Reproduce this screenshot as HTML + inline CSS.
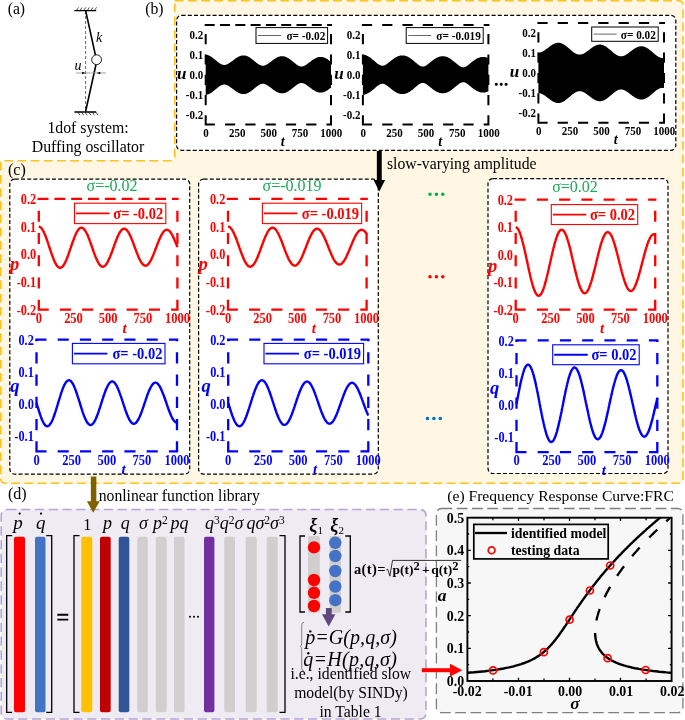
<!DOCTYPE html>
<html><head><meta charset="utf-8"><title>figure</title>
<style>html,body{margin:0;padding:0;background:#fff}svg{display:block}text{font-family:'Liberation Serif', 'DejaVu Serif', serif}</style>
</head><body>
<svg width="685" height="720" viewBox="0 0 685 720">
<rect x="0" y="0" width="685" height="720" fill="#fff"/>
<path d="M174.8 0.8 H678.500 Q683 0.8 683 5.300 V478.800 Q683 483.300 678.500 483.300 H5.300 Q0.800 483.300 0.800 478.800 V160.800 H169.600 Q174.800 160.800 174.800 155.600 Z" fill="#FFF7E3" stroke="#FFC21A" stroke-width="1.600" stroke-dasharray="8.800 4.400"/>
<text x="7.7" y="14" font-size="15.7">(a)</text>
<text x="145.3" y="14" font-size="15.7">(b)</text>
<g stroke="#000" fill="none">
<path d="M74.4 10.6 H96.2 M74.4 112 H96.2" stroke-width="1.3"/>
<path d="M76.5 10.4 l2 -3 M78 112.2 l2 3 M80.1 10.4 l2 -3 M81.6 112.2 l2 3 M83.7 10.4 l2 -3 M85.2 112.2 l2 3 M87.3 10.4 l2 -3 M88.8 112.2 l2 3 M90.9 10.4 l2 -3 M92.4 112.2 l2 3 M94.5 10.4 l2 -3 M96 112.2 l2 3 " stroke-width="0.7"/>
<path d="M85.6 11 V111" stroke-width="0.6" stroke-dasharray="3 2"/>
<path d="M85.7 10.8 L95.4 55 M96 64.500 L85.6 111.5" stroke-width="1.6"/>
<circle cx="96.6" cy="59.7" r="4.9" fill="#fff" stroke-width="0.9"/>
<path d="M76 73 H106" stroke="#999" stroke-width="0.9"/>
</g>
<path d="M85.6 73 l-3.500 -1.2 v2.4 Z M96.8 73 l3.500 -1.2 v2.4 Z" fill="#000"/>
<text x="96" y="41.7" font-size="14" font-style="italic">k</text>
<text x="74.6" y="70.3" font-size="14" font-style="italic">u</text>
<text x="88" y="132.6" font-size="15.8" text-anchor="middle">1dof system:</text>
<text x="88" y="151.6" font-size="15.8" text-anchor="middle">Duffing oscillator</text>
<rect x="176.6" y="15.300" width="499.2" height="135" rx="5" fill="#fff" stroke="#000" stroke-width="1.200" stroke-dasharray="4 2.200"/>
<path d="M205.7 54.6 L206 54.6 L206.3 54.7 L206.6 54.7 L207 54.8 L207.3 54.9 L207.6 55 L207.9 55.1 L208.2 55.2 L208.5 55.3 L208.8 55.4 L209.1 55.6 L209.5 55.7 L209.8 55.9 L210.1 56.1 L210.4 56.2 L210.7 56.4 L211 56.6 L211.3 56.8 L211.7 57 L212 57.3 L212.3 57.5 L212.6 57.7 L212.9 57.9 L213.2 58.2 L213.5 58.4 L213.8 58.7 L214.2 58.9 L214.5 59.2 L214.8 59.4 L215.1 59.7 L215.4 60 L215.7 60.2 L216 60.5 L216.4 60.7 L216.7 61 L217 61.3 L217.3 61.5 L217.6 61.8 L217.9 62 L218.2 62.3 L218.5 62.5 L218.9 62.7 L219.2 62.9 L219.5 63.2 L219.8 63.4 L220.1 63.6 L220.4 63.7 L220.7 63.9 L221 64.1 L221.4 64.2 L221.7 64.4 L222 64.5 L222.3 64.6 L222.6 64.7 L222.9 64.8 L223.2 64.8 L223.6 64.9 L223.9 64.9 L224.2 64.9 L224.5 64.9 L224.8 64.9 L225.1 64.9 L225.4 64.8 L225.7 64.7 L226.1 64.7 L226.4 64.6 L226.7 64.4 L227 64.3 L227.3 64.2 L227.6 64 L227.9 63.9 L228.3 63.7 L228.6 63.5 L228.9 63.3 L229.2 63.1 L229.5 62.9 L229.8 62.7 L230.1 62.5 L230.4 62.3 L230.8 62.1 L231.1 61.8 L231.4 61.6 L231.7 61.4 L232 61.1 L232.3 60.9 L232.6 60.7 L233 60.4 L233.3 60.2 L233.6 59.9 L233.9 59.7 L234.2 59.5 L234.5 59.2 L234.8 59 L235.1 58.8 L235.5 58.6 L235.8 58.3 L236.1 58.1 L236.4 57.9 L236.7 57.7 L237 57.5 L237.3 57.3 L237.7 57.2 L238 57 L238.3 56.8 L238.6 56.7 L238.9 56.5 L239.2 56.4 L239.5 56.2 L239.8 56.1 L240.2 56 L240.5 55.9 L240.8 55.8 L241.1 55.7 L241.4 55.6 L241.7 55.6 L242 55.5 L242.4 55.5 L242.7 55.4 L243 55.4 L243.3 55.4 L243.6 55.4 L243.9 55.4 L244.2 55.4 L244.5 55.4 L244.9 55.5 L245.2 55.5 L245.5 55.6 L245.8 55.7 L246.1 55.8 L246.4 55.9 L246.7 56 L247 56.1 L247.4 56.2 L247.7 56.4 L248 56.5 L248.3 56.7 L248.6 56.8 L248.9 57 L249.2 57.2 L249.6 57.4 L249.9 57.6 L250.2 57.8 L250.5 58 L250.8 58.2 L251.1 58.4 L251.4 58.7 L251.7 58.9 L252.1 59.1 L252.4 59.4 L252.7 59.6 L253 59.9 L253.3 60.1 L253.6 60.4 L253.9 60.6 L254.3 60.9 L254.6 61.2 L254.9 61.4 L255.2 61.7 L255.5 61.9 L255.8 62.2 L256.1 62.5 L256.4 62.7 L256.8 62.9 L257.1 63.2 L257.4 63.4 L257.7 63.6 L258 63.9 L258.3 64.1 L258.6 64.3 L259 64.5 L259.3 64.7 L259.6 64.8 L259.9 65 L260.2 65.1 L260.5 65.3 L260.8 65.4 L261.1 65.5 L261.5 65.5 L261.8 65.6 L262.1 65.7 L262.4 65.7 L262.7 65.7 L263 65.7 L263.3 65.7 L263.7 65.7 L264 65.6 L264.3 65.5 L264.6 65.5 L264.9 65.4 L265.2 65.2 L265.5 65.1 L265.8 65 L266.2 64.8 L266.5 64.7 L266.8 64.5 L267.1 64.3 L267.4 64.1 L267.7 63.9 L268 63.7 L268.4 63.5 L268.7 63.3 L269 63.1 L269.3 62.8 L269.6 62.6 L269.9 62.4 L270.2 62.1 L270.5 61.9 L270.9 61.7 L271.2 61.4 L271.5 61.2 L271.8 60.9 L272.1 60.7 L272.4 60.5 L272.7 60.2 L273 60 L273.4 59.8 L273.7 59.6 L274 59.3 L274.3 59.1 L274.6 58.9 L274.9 58.7 L275.2 58.5 L275.6 58.3 L275.9 58.1 L276.2 57.9 L276.5 57.8 L276.8 57.6 L277.1 57.4 L277.4 57.3 L277.7 57.1 L278.1 57 L278.4 56.9 L278.7 56.8 L279 56.7 L279.3 56.6 L279.6 56.5 L279.9 56.4 L280.3 56.3 L280.6 56.3 L280.9 56.2 L281.2 56.2 L281.5 56.2 L281.8 56.2 L282.1 56.2 L282.4 56.2 L282.8 56.2 L283.1 56.2 L283.4 56.3 L283.7 56.3 L284 56.4 L284.3 56.4 L284.6 56.5 L285 56.6 L285.3 56.7 L285.6 56.8 L285.9 57 L286.2 57.1 L286.5 57.2 L286.8 57.4 L287.1 57.5 L287.5 57.7 L287.8 57.9 L288.1 58.1 L288.4 58.3 L288.7 58.5 L289 58.7 L289.3 58.9 L289.7 59.1 L290 59.3 L290.3 59.6 L290.6 59.8 L290.9 60 L291.2 60.3 L291.5 60.5 L291.8 60.8 L292.2 61 L292.5 61.3 L292.8 61.6 L293.1 61.8 L293.4 62.1 L293.7 62.3 L294 62.6 L294.3 62.8 L294.7 63.1 L295 63.3 L295.3 63.6 L295.6 63.8 L295.9 64.1 L296.2 64.3 L296.5 64.5 L296.9 64.7 L297.2 65 L297.5 65.2 L297.8 65.3 L298.1 65.5 L298.4 65.7 L298.7 65.8 L299 66 L299.4 66.1 L299.7 66.2 L300 66.3 L300.3 66.4 L300.6 66.4 L300.9 66.4 L301.2 66.5 L301.6 66.5 L301.9 66.5 L302.2 66.4 L302.5 66.4 L302.8 66.3 L303.1 66.2 L303.4 66.1 L303.7 66 L304.1 65.9 L304.4 65.7 L304.7 65.6 L305 65.4 L305.3 65.2 L305.6 65.1 L305.9 64.9 L306.3 64.7 L306.6 64.5 L306.9 64.2 L307.2 64 L307.5 63.8 L307.8 63.6 L308.1 63.3 L308.4 63.1 L308.8 62.9 L309.1 62.6 L309.4 62.4 L309.7 62.1 L310 61.9 L310.3 61.7 L310.6 61.4 L311 61.2 L311.3 61 L311.6 60.7 L311.9 60.5 L312.2 60.3 L312.5 60.1 L312.8 59.8 L313.1 59.6 L313.5 59.4 L313.8 59.2 L314.1 59 L314.4 58.9 L314.7 58.7 L315 58.5 L315.3 58.3 L315.7 58.2 L316 58 L316.3 57.9 L316.6 57.8 L316.9 57.6 L317.2 57.5 L317.5 57.4 L317.8 57.3 L318.2 57.2 L318.5 57.1 L318.8 57.1 L319.1 57 L319.4 57 L319.7 56.9 L320 56.9 L320.3 56.9 L320.7 56.9 L321 56.9 L321.3 56.9 L321.6 56.9 L321.9 57 L322.2 57 L322.5 57.1 L322.9 57.2 L323.2 57.2 L323.5 57.3 L323.8 57.4 L324.1 57.5 L324.4 57.6 L324.7 57.8 L325 57.9 L325.4 58.1 L325.7 58.2 L326 58.4 L326.3 58.5 L326.6 58.7 L326.9 58.9 L327.2 59.1 L327.6 59.3 L327.9 59.5 L328.2 59.7 L328.5 60 L328.8 60.2 L329.1 60.4 L329.4 60.7 L329.7 60.9 L330.1 61.1 L330.4 61.4 L330.7 61.6 L331 61.9 L331 87.6 L330.7 87.9 L330.4 88.1 L330.1 88.4 L329.7 88.6 L329.4 88.8 L329.1 89.1 L328.8 89.3 L328.5 89.5 L328.2 89.8 L327.9 90 L327.6 90.2 L327.2 90.4 L326.9 90.6 L326.6 90.8 L326.3 91 L326 91.1 L325.7 91.3 L325.4 91.4 L325 91.6 L324.7 91.7 L324.4 91.9 L324.1 92 L323.8 92.1 L323.5 92.2 L323.2 92.3 L322.9 92.3 L322.5 92.4 L322.2 92.5 L321.9 92.5 L321.6 92.6 L321.3 92.6 L321 92.6 L320.7 92.6 L320.3 92.6 L320 92.6 L319.7 92.6 L319.4 92.5 L319.1 92.5 L318.8 92.4 L318.5 92.4 L318.2 92.3 L317.8 92.2 L317.5 92.1 L317.2 92 L316.9 91.9 L316.6 91.7 L316.3 91.6 L316 91.5 L315.7 91.3 L315.3 91.2 L315 91 L314.7 90.8 L314.4 90.6 L314.1 90.5 L313.8 90.3 L313.5 90.1 L313.1 89.9 L312.8 89.7 L312.5 89.4 L312.2 89.2 L311.9 89 L311.6 88.8 L311.3 88.5 L311 88.3 L310.6 88.1 L310.3 87.8 L310 87.6 L309.7 87.4 L309.4 87.1 L309.1 86.9 L308.8 86.6 L308.4 86.4 L308.1 86.2 L307.8 85.9 L307.5 85.7 L307.2 85.5 L306.9 85.3 L306.6 85 L306.3 84.8 L305.9 84.6 L305.6 84.4 L305.3 84.3 L305 84.1 L304.7 83.9 L304.4 83.8 L304.1 83.6 L303.7 83.5 L303.4 83.4 L303.1 83.3 L302.8 83.2 L302.5 83.1 L302.2 83.1 L301.9 83 L301.6 83 L301.2 83 L300.9 83.1 L300.6 83.1 L300.3 83.1 L300 83.2 L299.7 83.3 L299.4 83.4 L299 83.5 L298.7 83.7 L298.4 83.8 L298.1 84 L297.8 84.2 L297.5 84.3 L297.2 84.5 L296.9 84.8 L296.5 85 L296.2 85.2 L295.9 85.4 L295.6 85.7 L295.3 85.9 L295 86.2 L294.7 86.4 L294.3 86.7 L294 86.9 L293.7 87.2 L293.4 87.4 L293.1 87.7 L292.8 87.9 L292.5 88.2 L292.2 88.5 L291.8 88.7 L291.5 89 L291.2 89.2 L290.9 89.5 L290.6 89.7 L290.3 89.9 L290 90.2 L289.7 90.4 L289.3 90.6 L289 90.8 L288.7 91 L288.4 91.2 L288.1 91.4 L287.8 91.6 L287.5 91.8 L287.1 92 L286.8 92.1 L286.5 92.3 L286.2 92.4 L285.9 92.5 L285.6 92.7 L285.3 92.8 L285 92.9 L284.6 93 L284.3 93.1 L284 93.1 L283.7 93.2 L283.4 93.2 L283.1 93.3 L282.8 93.3 L282.4 93.3 L282.1 93.3 L281.8 93.3 L281.5 93.3 L281.2 93.3 L280.9 93.3 L280.6 93.2 L280.3 93.2 L279.9 93.1 L279.6 93 L279.3 92.9 L279 92.8 L278.7 92.7 L278.4 92.6 L278.1 92.5 L277.7 92.4 L277.4 92.2 L277.1 92.1 L276.8 91.9 L276.5 91.7 L276.2 91.6 L275.9 91.4 L275.6 91.2 L275.2 91 L274.9 90.8 L274.6 90.6 L274.3 90.4 L274 90.2 L273.7 89.9 L273.4 89.7 L273 89.5 L272.7 89.3 L272.4 89 L272.1 88.8 L271.8 88.6 L271.5 88.3 L271.2 88.1 L270.9 87.8 L270.5 87.6 L270.2 87.4 L269.9 87.1 L269.6 86.9 L269.3 86.7 L269 86.4 L268.7 86.2 L268.4 86 L268 85.8 L267.7 85.6 L267.4 85.4 L267.1 85.2 L266.8 85 L266.5 84.8 L266.2 84.7 L265.8 84.5 L265.5 84.4 L265.2 84.3 L264.9 84.1 L264.6 84 L264.3 84 L264 83.9 L263.7 83.8 L263.3 83.8 L263 83.8 L262.7 83.8 L262.4 83.8 L262.1 83.8 L261.8 83.9 L261.5 84 L261.1 84 L260.8 84.1 L260.5 84.2 L260.2 84.4 L259.9 84.5 L259.6 84.7 L259.3 84.8 L259 85 L258.6 85.2 L258.3 85.4 L258 85.6 L257.7 85.9 L257.4 86.1 L257.1 86.3 L256.8 86.6 L256.4 86.8 L256.1 87 L255.8 87.3 L255.5 87.6 L255.2 87.8 L254.9 88.1 L254.6 88.3 L254.3 88.6 L253.9 88.9 L253.6 89.1 L253.3 89.4 L253 89.6 L252.7 89.9 L252.4 90.1 L252.1 90.4 L251.7 90.6 L251.4 90.8 L251.1 91.1 L250.8 91.3 L250.5 91.5 L250.2 91.7 L249.9 91.9 L249.6 92.1 L249.2 92.3 L248.9 92.5 L248.6 92.7 L248.3 92.8 L248 93 L247.7 93.1 L247.4 93.3 L247 93.4 L246.7 93.5 L246.4 93.6 L246.1 93.7 L245.8 93.8 L245.5 93.9 L245.2 94 L244.9 94 L244.5 94.1 L244.2 94.1 L243.9 94.1 L243.6 94.1 L243.3 94.1 L243 94.1 L242.7 94.1 L242.4 94 L242 94 L241.7 93.9 L241.4 93.9 L241.1 93.8 L240.8 93.7 L240.5 93.6 L240.2 93.5 L239.8 93.4 L239.5 93.3 L239.2 93.1 L238.9 93 L238.6 92.8 L238.3 92.7 L238 92.5 L237.7 92.3 L237.3 92.2 L237 92 L236.7 91.8 L236.4 91.6 L236.1 91.4 L235.8 91.2 L235.5 90.9 L235.1 90.7 L234.8 90.5 L234.5 90.3 L234.2 90 L233.9 89.8 L233.6 89.6 L233.3 89.3 L233 89.1 L232.6 88.8 L232.3 88.6 L232 88.4 L231.7 88.1 L231.4 87.9 L231.1 87.7 L230.8 87.4 L230.4 87.2 L230.1 87 L229.8 86.8 L229.5 86.6 L229.2 86.4 L228.9 86.2 L228.6 86 L228.3 85.8 L227.9 85.6 L227.6 85.5 L227.3 85.3 L227 85.2 L226.7 85.1 L226.4 84.9 L226.1 84.8 L225.7 84.8 L225.4 84.7 L225.1 84.6 L224.8 84.6 L224.5 84.6 L224.2 84.6 L223.9 84.6 L223.6 84.6 L223.2 84.7 L222.9 84.7 L222.6 84.8 L222.3 84.9 L222 85 L221.7 85.1 L221.4 85.3 L221 85.4 L220.7 85.6 L220.4 85.8 L220.1 85.9 L219.8 86.1 L219.5 86.3 L219.2 86.6 L218.9 86.8 L218.5 87 L218.2 87.2 L217.9 87.5 L217.6 87.7 L217.3 88 L217 88.2 L216.7 88.5 L216.4 88.8 L216 89 L215.7 89.3 L215.4 89.5 L215.1 89.8 L214.8 90.1 L214.5 90.3 L214.2 90.6 L213.8 90.8 L213.5 91.1 L213.2 91.3 L212.9 91.6 L212.6 91.8 L212.3 92 L212 92.2 L211.7 92.5 L211.3 92.7 L211 92.9 L210.7 93.1 L210.4 93.3 L210.1 93.4 L209.8 93.6 L209.5 93.8 L209.1 93.9 L208.8 94.1 L208.5 94.2 L208.2 94.3 L207.9 94.4 L207.6 94.5 L207.3 94.6 L207 94.7 L206.6 94.8 L206.3 94.8 L206 94.9 L205.7 94.9 Z" fill="#000"/>
<g stroke="#000" stroke-width="2" fill="none"><path d="M204.7 25 H332" stroke-dasharray="10 5.3"/><path d="M204.7 124.5 H332 M205.7 125.5 V25 M331 125.5 V25" stroke-dasharray="10.2 10.1"/></g>
<rect x="256" y="27.6" width="71.6" height="15.8" fill="#fff" stroke="#000" stroke-width="1"/>
<path d="M258 35.5 h23" stroke="#000" stroke-width="0.6"/>
<text transform="translate(325.3 40) scale(1 1.08)" font-size="11.3" font-weight="bold" text-anchor="end">σ= -0.02</text>
<text transform="translate(203.2 38.5) scale(1 1.12)" font-size="11" font-weight="bold" text-anchor="end">0.2</text>
<text transform="translate(203.2 58.6) scale(1 1.12)" font-size="11" font-weight="bold" text-anchor="end">0.1</text>
<text transform="translate(203.2 78.8) scale(1 1.12)" font-size="11" font-weight="bold" text-anchor="end">0.0</text>
<text transform="translate(203.2 98.9) scale(1 1.12)" font-size="11" font-weight="bold" text-anchor="end">-0.1</text>
<text transform="translate(203.2 119) scale(1 1.12)" font-size="11" font-weight="bold" text-anchor="end">-0.2</text>
<text transform="translate(206 136.5) scale(1 1.12)" font-size="11" font-weight="bold" text-anchor="middle">0</text>
<text transform="translate(237.3 136.5) scale(1 1.12)" font-size="11" font-weight="bold" text-anchor="middle">250</text>
<text transform="translate(268.7 136.5) scale(1 1.12)" font-size="11" font-weight="bold" text-anchor="middle">500</text>
<text transform="translate(300 136.5) scale(1 1.12)" font-size="11" font-weight="bold" text-anchor="middle">750</text>
<text transform="translate(331.3 136.5) scale(1 1.12)" font-size="11" font-weight="bold" text-anchor="middle">1000</text>
<text x="282.8" y="145.5" font-size="14" font-weight="bold" font-style="italic" text-anchor="middle">t</text>
<text x="177.1" y="79" font-size="17" font-weight="bold" font-style="italic">u</text>
<path d="M362.9 54.6 L363.2 54.6 L363.5 54.7 L363.8 54.7 L364.2 54.8 L364.5 54.9 L364.8 54.9 L365.1 55 L365.4 55.1 L365.7 55.2 L366 55.3 L366.4 55.5 L366.7 55.6 L367 55.7 L367.3 55.9 L367.6 56 L367.9 56.2 L368.2 56.4 L368.5 56.6 L368.9 56.7 L369.2 56.9 L369.5 57.1 L369.8 57.4 L370.1 57.6 L370.4 57.8 L370.7 58 L371.1 58.2 L371.4 58.5 L371.7 58.7 L372 59 L372.3 59.2 L372.6 59.5 L372.9 59.7 L373.3 60 L373.6 60.3 L373.9 60.5 L374.2 60.8 L374.5 61.1 L374.8 61.3 L375.1 61.6 L375.4 61.9 L375.8 62.1 L376.1 62.4 L376.4 62.7 L376.7 62.9 L377 63.2 L377.3 63.4 L377.6 63.7 L378 63.9 L378.3 64.1 L378.6 64.3 L378.9 64.5 L379.2 64.7 L379.5 64.9 L379.8 65 L380.2 65.2 L380.5 65.3 L380.8 65.4 L381.1 65.5 L381.4 65.6 L381.7 65.7 L382 65.7 L382.4 65.7 L382.7 65.7 L383 65.7 L383.3 65.7 L383.6 65.6 L383.9 65.5 L384.2 65.4 L384.5 65.3 L384.9 65.2 L385.2 65 L385.5 64.8 L385.8 64.7 L386.1 64.5 L386.4 64.3 L386.7 64.1 L387.1 63.8 L387.4 63.6 L387.7 63.4 L388 63.1 L388.3 62.9 L388.6 62.6 L388.9 62.4 L389.3 62.1 L389.6 61.9 L389.9 61.6 L390.2 61.4 L390.5 61.1 L390.8 60.9 L391.1 60.6 L391.5 60.4 L391.8 60.1 L392.1 59.9 L392.4 59.6 L392.7 59.4 L393 59.1 L393.3 58.9 L393.6 58.7 L394 58.5 L394.3 58.3 L394.6 58.1 L394.9 57.9 L395.2 57.7 L395.5 57.5 L395.8 57.3 L396.2 57.1 L396.5 56.9 L396.8 56.8 L397.1 56.6 L397.4 56.5 L397.7 56.4 L398 56.2 L398.4 56.1 L398.7 56 L399 55.9 L399.3 55.8 L399.6 55.7 L399.9 55.7 L400.2 55.6 L400.5 55.5 L400.9 55.5 L401.2 55.5 L401.5 55.4 L401.8 55.4 L402.1 55.4 L402.4 55.4 L402.7 55.4 L403.1 55.4 L403.4 55.4 L403.7 55.5 L404 55.5 L404.3 55.6 L404.6 55.6 L404.9 55.7 L405.3 55.8 L405.6 55.9 L405.9 56 L406.2 56.1 L406.5 56.2 L406.8 56.3 L407.1 56.5 L407.5 56.6 L407.8 56.8 L408.1 56.9 L408.4 57.1 L408.7 57.3 L409 57.4 L409.3 57.6 L409.6 57.8 L410 58 L410.3 58.2 L410.6 58.4 L410.9 58.7 L411.2 58.9 L411.5 59.1 L411.8 59.4 L412.2 59.6 L412.5 59.8 L412.8 60.1 L413.1 60.3 L413.4 60.6 L413.7 60.9 L414 61.1 L414.4 61.4 L414.7 61.7 L415 61.9 L415.3 62.2 L415.6 62.5 L415.9 62.7 L416.2 63 L416.6 63.3 L416.9 63.5 L417.2 63.8 L417.5 64 L417.8 64.3 L418.1 64.5 L418.4 64.7 L418.7 65 L419.1 65.2 L419.4 65.4 L419.7 65.6 L420 65.7 L420.3 65.9 L420.6 66 L420.9 66.2 L421.3 66.3 L421.6 66.4 L421.9 66.4 L422.2 66.5 L422.5 66.5 L422.8 66.5 L423.1 66.5 L423.5 66.5 L423.8 66.4 L424.1 66.4 L424.4 66.3 L424.7 66.2 L425 66 L425.3 65.9 L425.6 65.7 L426 65.5 L426.3 65.4 L426.6 65.2 L426.9 64.9 L427.2 64.7 L427.5 64.5 L427.8 64.3 L428.2 64 L428.5 63.8 L428.8 63.5 L429.1 63.3 L429.4 63 L429.7 62.8 L430 62.5 L430.4 62.3 L430.7 62 L431 61.8 L431.3 61.5 L431.6 61.2 L431.9 61 L432.2 60.8 L432.6 60.5 L432.9 60.3 L433.2 60 L433.5 59.8 L433.8 59.6 L434.1 59.4 L434.4 59.1 L434.7 58.9 L435.1 58.7 L435.4 58.5 L435.7 58.3 L436 58.2 L436.3 58 L436.6 57.8 L436.9 57.7 L437.3 57.5 L437.6 57.4 L437.9 57.2 L438.2 57.1 L438.5 57 L438.8 56.9 L439.1 56.8 L439.5 56.7 L439.8 56.6 L440.1 56.5 L440.4 56.4 L440.7 56.4 L441 56.3 L441.3 56.3 L441.7 56.2 L442 56.2 L442.3 56.2 L442.6 56.2 L442.9 56.2 L443.2 56.2 L443.5 56.2 L443.8 56.2 L444.2 56.3 L444.5 56.3 L444.8 56.4 L445.1 56.4 L445.4 56.5 L445.7 56.6 L446 56.7 L446.4 56.8 L446.7 56.9 L447 57 L447.3 57.1 L447.6 57.3 L447.9 57.4 L448.2 57.6 L448.6 57.7 L448.9 57.9 L449.2 58.1 L449.5 58.2 L449.8 58.4 L450.1 58.6 L450.4 58.8 L450.8 59 L451.1 59.3 L451.4 59.5 L451.7 59.7 L452 59.9 L452.3 60.2 L452.6 60.4 L452.9 60.7 L453.3 60.9 L453.6 61.2 L453.9 61.4 L454.2 61.7 L454.5 61.9 L454.8 62.2 L455.1 62.5 L455.5 62.7 L455.8 63 L456.1 63.3 L456.4 63.5 L456.7 63.8 L457 64.1 L457.3 64.3 L457.7 64.6 L458 64.8 L458.3 65.1 L458.6 65.3 L458.9 65.5 L459.2 65.8 L459.5 66 L459.8 66.2 L460.2 66.4 L460.5 66.5 L460.8 66.7 L461.1 66.8 L461.4 67 L461.7 67.1 L462 67.2 L462.4 67.2 L462.7 67.3 L463 67.3 L463.3 67.3 L463.6 67.3 L463.9 67.2 L464.2 67.2 L464.6 67.1 L464.9 67 L465.2 66.9 L465.5 66.7 L465.8 66.6 L466.1 66.4 L466.4 66.2 L466.8 66 L467.1 65.8 L467.4 65.6 L467.7 65.4 L468 65.1 L468.3 64.9 L468.6 64.6 L468.9 64.4 L469.3 64.1 L469.6 63.9 L469.9 63.6 L470.2 63.4 L470.5 63.1 L470.8 62.9 L471.1 62.6 L471.5 62.3 L471.8 62.1 L472.1 61.8 L472.4 61.6 L472.7 61.4 L473 61.1 L473.3 60.9 L473.7 60.6 L474 60.4 L474.3 60.2 L474.6 60 L474.9 59.8 L475.2 59.6 L475.5 59.4 L475.8 59.2 L476.2 59 L476.5 58.8 L476.8 58.6 L477.1 58.5 L477.4 58.3 L477.7 58.2 L478 58 L478.4 57.9 L478.7 57.8 L479 57.7 L479.3 57.5 L479.6 57.4 L479.9 57.4 L480.2 57.3 L480.6 57.2 L480.9 57.1 L481.2 57.1 L481.5 57 L481.8 57 L482.1 57 L482.4 56.9 L482.8 56.9 L483.1 56.9 L483.4 56.9 L483.7 56.9 L484 57 L484.3 57 L484.6 57 L484.9 57.1 L485.3 57.1 L485.6 57.2 L485.9 57.3 L486.2 57.4 L486.5 57.5 L486.8 57.6 L487.1 57.7 L487.5 57.8 L487.8 57.9 L488.1 58.1 L488.4 58.2 L488.4 91.3 L488.1 91.4 L487.8 91.6 L487.5 91.7 L487.1 91.8 L486.8 91.9 L486.5 92 L486.2 92.1 L485.9 92.2 L485.6 92.3 L485.3 92.4 L484.9 92.4 L484.6 92.5 L484.3 92.5 L484 92.5 L483.7 92.6 L483.4 92.6 L483.1 92.6 L482.8 92.6 L482.4 92.6 L482.1 92.5 L481.8 92.5 L481.5 92.5 L481.2 92.4 L480.9 92.4 L480.6 92.3 L480.2 92.2 L479.9 92.1 L479.6 92.1 L479.3 92 L479 91.8 L478.7 91.7 L478.4 91.6 L478 91.5 L477.7 91.3 L477.4 91.2 L477.1 91 L476.8 90.9 L476.5 90.7 L476.2 90.5 L475.8 90.3 L475.5 90.1 L475.2 89.9 L474.9 89.7 L474.6 89.5 L474.3 89.3 L474 89.1 L473.7 88.9 L473.3 88.6 L473 88.4 L472.7 88.1 L472.4 87.9 L472.1 87.7 L471.8 87.4 L471.5 87.2 L471.1 86.9 L470.8 86.6 L470.5 86.4 L470.2 86.1 L469.9 85.9 L469.6 85.6 L469.3 85.4 L468.9 85.1 L468.6 84.9 L468.3 84.6 L468 84.4 L467.7 84.1 L467.4 83.9 L467.1 83.7 L466.8 83.5 L466.4 83.3 L466.1 83.1 L465.8 82.9 L465.5 82.8 L465.2 82.6 L464.9 82.5 L464.6 82.4 L464.2 82.3 L463.9 82.3 L463.6 82.2 L463.3 82.2 L463 82.2 L462.7 82.2 L462.4 82.3 L462 82.3 L461.7 82.4 L461.4 82.5 L461.1 82.7 L460.8 82.8 L460.5 83 L460.2 83.1 L459.8 83.3 L459.5 83.5 L459.2 83.7 L458.9 84 L458.6 84.2 L458.3 84.4 L458 84.7 L457.7 84.9 L457.3 85.2 L457 85.4 L456.7 85.7 L456.4 86 L456.1 86.2 L455.8 86.5 L455.5 86.8 L455.1 87 L454.8 87.3 L454.5 87.6 L454.2 87.8 L453.9 88.1 L453.6 88.3 L453.3 88.6 L452.9 88.8 L452.6 89.1 L452.3 89.3 L452 89.6 L451.7 89.8 L451.4 90 L451.1 90.2 L450.8 90.5 L450.4 90.7 L450.1 90.9 L449.8 91.1 L449.5 91.3 L449.2 91.4 L448.9 91.6 L448.6 91.8 L448.2 91.9 L447.9 92.1 L447.6 92.2 L447.3 92.4 L447 92.5 L446.7 92.6 L446.4 92.7 L446 92.8 L445.7 92.9 L445.4 93 L445.1 93.1 L444.8 93.1 L444.5 93.2 L444.2 93.2 L443.8 93.3 L443.5 93.3 L443.2 93.3 L442.9 93.3 L442.6 93.3 L442.3 93.3 L442 93.3 L441.7 93.3 L441.3 93.2 L441 93.2 L440.7 93.1 L440.4 93.1 L440.1 93 L439.8 92.9 L439.5 92.8 L439.1 92.7 L438.8 92.6 L438.5 92.5 L438.2 92.4 L437.9 92.3 L437.6 92.1 L437.3 92 L436.9 91.8 L436.6 91.7 L436.3 91.5 L436 91.3 L435.7 91.2 L435.4 91 L435.1 90.8 L434.7 90.6 L434.4 90.4 L434.1 90.1 L433.8 89.9 L433.5 89.7 L433.2 89.5 L432.9 89.2 L432.6 89 L432.2 88.7 L431.9 88.5 L431.6 88.3 L431.3 88 L431 87.7 L430.7 87.5 L430.4 87.2 L430 87 L429.7 86.7 L429.4 86.5 L429.1 86.2 L428.8 86 L428.5 85.7 L428.2 85.5 L427.8 85.2 L427.5 85 L427.2 84.8 L426.9 84.6 L426.6 84.3 L426.3 84.1 L426 84 L425.6 83.8 L425.3 83.6 L425 83.5 L424.7 83.3 L424.4 83.2 L424.1 83.1 L423.8 83.1 L423.5 83 L423.1 83 L422.8 83 L422.5 83 L422.2 83 L421.9 83.1 L421.6 83.1 L421.3 83.2 L420.9 83.3 L420.6 83.5 L420.3 83.6 L420 83.8 L419.7 83.9 L419.4 84.1 L419.1 84.3 L418.7 84.5 L418.4 84.8 L418.1 85 L417.8 85.2 L417.5 85.5 L417.2 85.7 L416.9 86 L416.6 86.2 L416.2 86.5 L415.9 86.8 L415.6 87 L415.3 87.3 L415 87.6 L414.7 87.8 L414.4 88.1 L414 88.4 L413.7 88.6 L413.4 88.9 L413.1 89.2 L412.8 89.4 L412.5 89.7 L412.2 89.9 L411.8 90.1 L411.5 90.4 L411.2 90.6 L410.9 90.8 L410.6 91.1 L410.3 91.3 L410 91.5 L409.6 91.7 L409.3 91.9 L409 92.1 L408.7 92.2 L408.4 92.4 L408.1 92.6 L407.8 92.7 L407.5 92.9 L407.1 93 L406.8 93.2 L406.5 93.3 L406.2 93.4 L405.9 93.5 L405.6 93.6 L405.3 93.7 L404.9 93.8 L404.6 93.9 L404.3 93.9 L404 94 L403.7 94 L403.4 94.1 L403.1 94.1 L402.7 94.1 L402.4 94.1 L402.1 94.1 L401.8 94.1 L401.5 94.1 L401.2 94 L400.9 94 L400.5 94 L400.2 93.9 L399.9 93.8 L399.6 93.8 L399.3 93.7 L399 93.6 L398.7 93.5 L398.4 93.4 L398 93.3 L397.7 93.1 L397.4 93 L397.1 92.9 L396.8 92.7 L396.5 92.6 L396.2 92.4 L395.8 92.2 L395.5 92 L395.2 91.8 L394.9 91.6 L394.6 91.4 L394.3 91.2 L394 91 L393.6 90.8 L393.3 90.6 L393 90.4 L392.7 90.1 L392.4 89.9 L392.1 89.6 L391.8 89.4 L391.5 89.1 L391.1 88.9 L390.8 88.6 L390.5 88.4 L390.2 88.1 L389.9 87.9 L389.6 87.6 L389.3 87.4 L388.9 87.1 L388.6 86.9 L388.3 86.6 L388 86.4 L387.7 86.1 L387.4 85.9 L387.1 85.7 L386.7 85.4 L386.4 85.2 L386.1 85 L385.8 84.8 L385.5 84.7 L385.2 84.5 L384.9 84.3 L384.5 84.2 L384.2 84.1 L383.9 84 L383.6 83.9 L383.3 83.8 L383 83.8 L382.7 83.8 L382.4 83.8 L382 83.8 L381.7 83.8 L381.4 83.9 L381.1 84 L380.8 84.1 L380.5 84.2 L380.2 84.3 L379.8 84.5 L379.5 84.6 L379.2 84.8 L378.9 85 L378.6 85.2 L378.3 85.4 L378 85.6 L377.6 85.8 L377.3 86.1 L377 86.3 L376.7 86.6 L376.4 86.8 L376.1 87.1 L375.8 87.4 L375.4 87.6 L375.1 87.9 L374.8 88.2 L374.5 88.4 L374.2 88.7 L373.9 89 L373.6 89.2 L373.3 89.5 L372.9 89.8 L372.6 90 L372.3 90.3 L372 90.5 L371.7 90.8 L371.4 91 L371.1 91.3 L370.7 91.5 L370.4 91.7 L370.1 91.9 L369.8 92.1 L369.5 92.4 L369.2 92.6 L368.9 92.8 L368.5 92.9 L368.2 93.1 L367.9 93.3 L367.6 93.5 L367.3 93.6 L367 93.8 L366.7 93.9 L366.4 94 L366 94.2 L365.7 94.3 L365.4 94.4 L365.1 94.5 L364.8 94.6 L364.5 94.6 L364.2 94.7 L363.8 94.8 L363.5 94.8 L363.2 94.9 L362.9 94.9 Z" fill="#000"/>
<g stroke="#000" stroke-width="2" fill="none"><path d="M361.9 25 H489.4" stroke-dasharray="10.2 10.1"/><path d="M361.9 124.5 H489.4 M362.9 125.5 V25 M488.4 125.5 V25" stroke-dasharray="10.2 10.1"/></g>
<rect x="406.2" y="27.6" width="77" height="15.8" fill="#fff" stroke="#000" stroke-width="1"/>
<path d="M408.2 35.5 h23" stroke="#000" stroke-width="0.6"/>
<text transform="translate(480.9 40) scale(1 1.08)" font-size="11.3" font-weight="bold" text-anchor="end">σ= -0.019</text>
<text transform="translate(360.4 38.5) scale(1 1.12)" font-size="11" font-weight="bold" text-anchor="end">0.2</text>
<text transform="translate(360.4 58.6) scale(1 1.12)" font-size="11" font-weight="bold" text-anchor="end">0.1</text>
<text transform="translate(360.4 78.8) scale(1 1.12)" font-size="11" font-weight="bold" text-anchor="end">0.0</text>
<text transform="translate(360.4 98.9) scale(1 1.12)" font-size="11" font-weight="bold" text-anchor="end">-0.1</text>
<text transform="translate(360.4 119) scale(1 1.12)" font-size="11" font-weight="bold" text-anchor="end">-0.2</text>
<text transform="translate(363.2 136.5) scale(1 1.12)" font-size="11" font-weight="bold" text-anchor="middle">0</text>
<text transform="translate(394.6 136.5) scale(1 1.12)" font-size="11" font-weight="bold" text-anchor="middle">250</text>
<text transform="translate(425.9 136.5) scale(1 1.12)" font-size="11" font-weight="bold" text-anchor="middle">500</text>
<text transform="translate(457.3 136.5) scale(1 1.12)" font-size="11" font-weight="bold" text-anchor="middle">750</text>
<text transform="translate(488.7 136.5) scale(1 1.12)" font-size="11" font-weight="bold" text-anchor="middle">1000</text>
<text x="440.1" y="145.5" font-size="14" font-weight="bold" font-style="italic" text-anchor="middle">t</text>
<text x="334.3" y="79" font-size="17" font-weight="bold" font-style="italic">u</text>
<path d="M538.4 52.7 L538.7 52.7 L539 52.7 L539.3 52.6 L539.7 52.6 L540 52.5 L540.3 52.4 L540.6 52.4 L540.9 52.2 L541.2 52.1 L541.5 52 L541.9 51.9 L542.2 51.7 L542.5 51.6 L542.8 51.4 L543.1 51.2 L543.4 51 L543.7 50.8 L544.1 50.7 L544.4 50.4 L544.7 50.2 L545 50 L545.3 49.8 L545.6 49.6 L545.9 49.3 L546.2 49.1 L546.6 48.9 L546.9 48.6 L547.2 48.4 L547.5 48.2 L547.8 47.9 L548.1 47.7 L548.4 47.4 L548.8 47.2 L549.1 47 L549.4 46.7 L549.7 46.5 L550 46.3 L550.3 46 L550.6 45.8 L551 45.6 L551.3 45.4 L551.6 45.2 L551.9 45 L552.2 44.8 L552.5 44.6 L552.8 44.4 L553.2 44.2 L553.5 44.1 L553.8 43.9 L554.1 43.8 L554.4 43.6 L554.7 43.5 L555 43.4 L555.4 43.3 L555.7 43.2 L556 43.1 L556.3 43 L556.6 42.9 L556.9 42.9 L557.2 42.8 L557.6 42.8 L557.9 42.8 L558.2 42.8 L558.5 42.8 L558.8 42.8 L559.1 42.8 L559.4 42.8 L559.8 42.9 L560.1 42.9 L560.4 43 L560.7 43.1 L561 43.2 L561.3 43.3 L561.6 43.4 L561.9 43.5 L562.3 43.7 L562.6 43.8 L562.9 44 L563.2 44.1 L563.5 44.3 L563.8 44.5 L564.1 44.7 L564.5 44.9 L564.8 45.1 L565.1 45.3 L565.4 45.5 L565.7 45.7 L566 46 L566.3 46.2 L566.7 46.5 L567 46.7 L567.3 47 L567.6 47.2 L567.9 47.5 L568.2 47.8 L568.5 48 L568.9 48.3 L569.2 48.6 L569.5 48.9 L569.8 49.1 L570.1 49.4 L570.4 49.7 L570.7 49.9 L571.1 50.2 L571.4 50.5 L571.7 50.7 L572 51 L572.3 51.3 L572.6 51.5 L572.9 51.8 L573.3 52 L573.6 52.2 L573.9 52.4 L574.2 52.7 L574.5 52.9 L574.8 53.1 L575.1 53.2 L575.5 53.4 L575.8 53.6 L576.1 53.7 L576.4 53.9 L576.7 54 L577 54.1 L577.3 54.2 L577.6 54.3 L578 54.4 L578.3 54.5 L578.6 54.5 L578.9 54.6 L579.2 54.6 L579.5 54.6 L579.8 54.6 L580.2 54.6 L580.5 54.6 L580.8 54.5 L581.1 54.5 L581.4 54.4 L581.7 54.3 L582 54.2 L582.4 54.1 L582.7 54 L583 53.9 L583.3 53.7 L583.6 53.6 L583.9 53.4 L584.2 53.2 L584.6 53 L584.9 52.9 L585.2 52.7 L585.5 52.5 L585.8 52.3 L586.1 52 L586.4 51.8 L586.8 51.6 L587.1 51.4 L587.4 51.1 L587.7 50.9 L588 50.7 L588.3 50.4 L588.6 50.2 L589 49.9 L589.3 49.7 L589.6 49.5 L589.9 49.2 L590.2 49 L590.5 48.7 L590.8 48.5 L591.2 48.3 L591.5 48 L591.8 47.8 L592.1 47.6 L592.4 47.4 L592.7 47.2 L593 47 L593.4 46.8 L593.7 46.6 L594 46.4 L594.3 46.2 L594.6 46 L594.9 45.9 L595.2 45.7 L595.5 45.6 L595.9 45.4 L596.2 45.3 L596.5 45.2 L596.8 45.1 L597.1 45 L597.4 44.9 L597.7 44.8 L598.1 44.7 L598.4 44.7 L598.7 44.6 L599 44.6 L599.3 44.6 L599.6 44.6 L599.9 44.6 L600.3 44.6 L600.6 44.6 L600.9 44.6 L601.2 44.7 L601.5 44.7 L601.8 44.8 L602.1 44.9 L602.5 45 L602.8 45.1 L603.1 45.2 L603.4 45.3 L603.7 45.4 L604 45.6 L604.3 45.7 L604.7 45.9 L605 46 L605.3 46.2 L605.6 46.4 L605.9 46.6 L606.2 46.8 L606.5 47 L606.9 47.2 L607.2 47.5 L607.5 47.7 L607.8 47.9 L608.1 48.2 L608.4 48.4 L608.7 48.7 L609 48.9 L609.4 49.2 L609.7 49.5 L610 49.7 L610.3 50 L610.6 50.3 L610.9 50.5 L611.2 50.8 L611.6 51.1 L611.9 51.3 L612.2 51.6 L612.5 51.9 L612.8 52.2 L613.1 52.4 L613.4 52.7 L613.8 52.9 L614.1 53.2 L614.4 53.4 L614.7 53.7 L615 53.9 L615.3 54.1 L615.6 54.3 L616 54.6 L616.3 54.8 L616.6 54.9 L616.9 55.1 L617.2 55.3 L617.5 55.5 L617.8 55.6 L618.2 55.7 L618.5 55.9 L618.8 56 L619.1 56.1 L619.4 56.1 L619.7 56.2 L620 56.3 L620.4 56.3 L620.7 56.3 L621 56.3 L621.3 56.3 L621.6 56.3 L621.9 56.3 L622.2 56.2 L622.6 56.2 L622.9 56.1 L623.2 56 L623.5 55.9 L623.8 55.8 L624.1 55.7 L624.4 55.6 L624.8 55.4 L625.1 55.3 L625.4 55.1 L625.7 54.9 L626 54.7 L626.3 54.5 L626.6 54.3 L626.9 54.1 L627.3 53.9 L627.6 53.7 L627.9 53.5 L628.2 53.3 L628.5 53 L628.8 52.8 L629.1 52.6 L629.5 52.3 L629.8 52.1 L630.1 51.8 L630.4 51.6 L630.7 51.3 L631 51.1 L631.3 50.9 L631.7 50.6 L632 50.4 L632.3 50.1 L632.6 49.9 L632.9 49.7 L633.2 49.5 L633.5 49.2 L633.9 49 L634.2 48.8 L634.5 48.6 L634.8 48.4 L635.1 48.2 L635.4 48 L635.7 47.9 L636.1 47.7 L636.4 47.5 L636.7 47.4 L637 47.2 L637.3 47.1 L637.6 47 L637.9 46.9 L638.3 46.7 L638.6 46.6 L638.9 46.6 L639.2 46.5 L639.5 46.4 L639.8 46.4 L640.1 46.3 L640.5 46.3 L640.8 46.3 L641.1 46.2 L641.4 46.2 L641.7 46.3 L642 46.3 L642.3 46.3 L642.6 46.3 L643 46.4 L643.3 46.5 L643.6 46.5 L643.9 46.6 L644.2 46.7 L644.5 46.8 L644.8 46.9 L645.2 47.1 L645.5 47.2 L645.8 47.3 L646.1 47.5 L646.4 47.7 L646.7 47.8 L647 48 L647.4 48.2 L647.7 48.4 L648 48.6 L648.3 48.8 L648.6 49 L648.9 49.3 L649.2 49.5 L649.6 49.7 L649.9 50 L650.2 50.2 L650.5 50.5 L650.8 50.7 L651.1 51 L651.4 51.3 L651.8 51.5 L652.1 51.8 L652.4 52.1 L652.7 52.3 L653 52.6 L653.3 52.9 L653.6 53.2 L654 53.4 L654.3 53.7 L654.6 54 L654.9 54.2 L655.2 54.5 L655.5 54.7 L655.8 55 L656.1 55.2 L656.5 55.5 L656.8 55.7 L657.1 55.9 L657.4 56.1 L657.7 56.3 L658 56.5 L658.3 56.7 L658.7 56.9 L659 57 L659.3 57.2 L659.6 57.3 L659.9 57.5 L660.2 57.6 L660.5 57.7 L660.9 57.8 L661.2 57.8 L661.5 57.9 L661.8 57.9 L662.1 57.9 L662.4 58 L662.7 58 L663.1 57.9 L663.4 57.9 L663.7 57.9 L664 57.8 L664 88 L663.7 87.9 L663.4 87.9 L663.1 87.9 L662.7 87.8 L662.4 87.8 L662.1 87.9 L661.8 87.9 L661.5 87.9 L661.2 88 L660.9 88 L660.5 88.1 L660.2 88.2 L659.9 88.3 L659.6 88.5 L659.3 88.6 L659 88.8 L658.7 88.9 L658.3 89.1 L658 89.3 L657.7 89.5 L657.4 89.7 L657.1 89.9 L656.8 90.1 L656.5 90.3 L656.1 90.6 L655.8 90.8 L655.5 91.1 L655.2 91.3 L654.9 91.6 L654.6 91.8 L654.3 92.1 L654 92.4 L653.6 92.6 L653.3 92.9 L653 93.2 L652.7 93.5 L652.4 93.7 L652.1 94 L651.8 94.3 L651.4 94.5 L651.1 94.8 L650.8 95.1 L650.5 95.3 L650.2 95.6 L649.9 95.8 L649.6 96.1 L649.2 96.3 L648.9 96.5 L648.6 96.8 L648.3 97 L648 97.2 L647.7 97.4 L647.4 97.6 L647 97.8 L646.7 98 L646.4 98.1 L646.1 98.3 L645.8 98.5 L645.5 98.6 L645.2 98.7 L644.8 98.9 L644.5 99 L644.2 99.1 L643.9 99.2 L643.6 99.3 L643.3 99.3 L643 99.4 L642.6 99.5 L642.3 99.5 L642 99.5 L641.7 99.5 L641.4 99.6 L641.1 99.6 L640.8 99.5 L640.5 99.5 L640.1 99.5 L639.8 99.4 L639.5 99.4 L639.2 99.3 L638.9 99.2 L638.6 99.2 L638.3 99.1 L637.9 98.9 L637.6 98.8 L637.3 98.7 L637 98.6 L636.7 98.4 L636.4 98.3 L636.1 98.1 L635.7 97.9 L635.4 97.8 L635.1 97.6 L634.8 97.4 L634.5 97.2 L634.2 97 L633.9 96.8 L633.5 96.6 L633.2 96.3 L632.9 96.1 L632.6 95.9 L632.3 95.7 L632 95.4 L631.7 95.2 L631.3 94.9 L631 94.7 L630.7 94.5 L630.4 94.2 L630.1 94 L629.8 93.7 L629.5 93.5 L629.1 93.2 L628.8 93 L628.5 92.8 L628.2 92.5 L627.9 92.3 L627.6 92.1 L627.3 91.9 L626.9 91.7 L626.6 91.5 L626.3 91.3 L626 91.1 L625.7 90.9 L625.4 90.7 L625.1 90.5 L624.8 90.4 L624.4 90.2 L624.1 90.1 L623.8 90 L623.5 89.9 L623.2 89.8 L622.9 89.7 L622.6 89.6 L622.2 89.6 L621.9 89.5 L621.6 89.5 L621.3 89.5 L621 89.5 L620.7 89.5 L620.4 89.5 L620 89.5 L619.7 89.6 L619.4 89.7 L619.1 89.7 L618.8 89.8 L618.5 89.9 L618.2 90.1 L617.8 90.2 L617.5 90.3 L617.2 90.5 L616.9 90.7 L616.6 90.9 L616.3 91 L616 91.2 L615.6 91.5 L615.3 91.7 L615 91.9 L614.7 92.1 L614.4 92.4 L614.1 92.6 L613.8 92.9 L613.4 93.1 L613.1 93.4 L612.8 93.6 L612.5 93.9 L612.2 94.2 L611.9 94.5 L611.6 94.7 L611.2 95 L610.9 95.3 L610.6 95.5 L610.3 95.8 L610 96.1 L609.7 96.3 L609.4 96.6 L609 96.9 L608.7 97.1 L608.4 97.4 L608.1 97.6 L607.8 97.9 L607.5 98.1 L607.2 98.3 L606.9 98.6 L606.5 98.8 L606.2 99 L605.9 99.2 L605.6 99.4 L605.3 99.6 L605 99.8 L604.7 99.9 L604.3 100.1 L604 100.2 L603.7 100.4 L603.4 100.5 L603.1 100.6 L602.8 100.7 L602.5 100.8 L602.1 100.9 L601.8 101 L601.5 101.1 L601.2 101.1 L600.9 101.2 L600.6 101.2 L600.3 101.2 L599.9 101.2 L599.6 101.2 L599.3 101.2 L599 101.2 L598.7 101.2 L598.4 101.1 L598.1 101.1 L597.7 101 L597.4 100.9 L597.1 100.8 L596.8 100.7 L596.5 100.6 L596.2 100.5 L595.9 100.4 L595.5 100.2 L595.2 100.1 L594.9 99.9 L594.6 99.8 L594.3 99.6 L594 99.4 L593.7 99.2 L593.4 99 L593 98.8 L592.7 98.6 L592.4 98.4 L592.1 98.2 L591.8 98 L591.5 97.8 L591.2 97.5 L590.8 97.3 L590.5 97.1 L590.2 96.8 L589.9 96.6 L589.6 96.3 L589.3 96.1 L589 95.9 L588.6 95.6 L588.3 95.4 L588 95.1 L587.7 94.9 L587.4 94.7 L587.1 94.4 L586.8 94.2 L586.4 94 L586.1 93.8 L585.8 93.5 L585.5 93.3 L585.2 93.1 L584.9 92.9 L584.6 92.8 L584.2 92.6 L583.9 92.4 L583.6 92.2 L583.3 92.1 L583 91.9 L582.7 91.8 L582.4 91.7 L582 91.6 L581.7 91.5 L581.4 91.4 L581.1 91.3 L580.8 91.3 L580.5 91.2 L580.2 91.2 L579.8 91.2 L579.5 91.2 L579.2 91.2 L578.9 91.2 L578.6 91.3 L578.3 91.3 L578 91.4 L577.6 91.5 L577.3 91.6 L577 91.7 L576.7 91.8 L576.4 91.9 L576.1 92.1 L575.8 92.2 L575.5 92.4 L575.1 92.6 L574.8 92.7 L574.5 92.9 L574.2 93.1 L573.9 93.4 L573.6 93.6 L573.3 93.8 L572.9 94 L572.6 94.3 L572.3 94.5 L572 94.8 L571.7 95.1 L571.4 95.3 L571.1 95.6 L570.7 95.9 L570.4 96.1 L570.1 96.4 L569.8 96.7 L569.5 96.9 L569.2 97.2 L568.9 97.5 L568.5 97.8 L568.2 98 L567.9 98.3 L567.6 98.6 L567.3 98.8 L567 99.1 L566.7 99.3 L566.3 99.6 L566 99.8 L565.7 100.1 L565.4 100.3 L565.1 100.5 L564.8 100.7 L564.5 100.9 L564.1 101.1 L563.8 101.3 L563.5 101.5 L563.2 101.7 L562.9 101.8 L562.6 102 L562.3 102.1 L561.9 102.3 L561.6 102.4 L561.3 102.5 L561 102.6 L560.7 102.7 L560.4 102.8 L560.1 102.9 L559.8 102.9 L559.4 103 L559.1 103 L558.8 103 L558.5 103 L558.2 103 L557.9 103 L557.6 103 L557.2 103 L556.9 102.9 L556.6 102.9 L556.3 102.8 L556 102.7 L555.7 102.6 L555.4 102.5 L555 102.4 L554.7 102.3 L554.4 102.2 L554.1 102 L553.8 101.9 L553.5 101.7 L553.2 101.6 L552.8 101.4 L552.5 101.2 L552.2 101 L551.9 100.8 L551.6 100.6 L551.3 100.4 L551 100.2 L550.6 100 L550.3 99.8 L550 99.5 L549.7 99.3 L549.4 99.1 L549.1 98.8 L548.8 98.6 L548.4 98.4 L548.1 98.1 L547.8 97.9 L547.5 97.6 L547.2 97.4 L546.9 97.2 L546.6 96.9 L546.2 96.7 L545.9 96.5 L545.6 96.2 L545.3 96 L545 95.8 L544.7 95.6 L544.4 95.4 L544.1 95.1 L543.7 95 L543.4 94.8 L543.1 94.6 L542.8 94.4 L542.5 94.2 L542.2 94.1 L541.9 93.9 L541.5 93.8 L541.2 93.7 L540.9 93.6 L540.6 93.4 L540.3 93.4 L540 93.3 L539.7 93.2 L539.3 93.2 L539 93.1 L538.7 93.1 L538.4 93.1 Z" fill="#000"/>
<g stroke="#000" stroke-width="2" fill="none"><path d="M537.4 23.1 H665" stroke-dasharray="10.2 10.1"/><path d="M537.4 122.7 H665 M538.4 123.7 V23.1 M664 123.7 V23.1" stroke-dasharray="10.2 10.1"/></g>
<rect x="591.7" y="27" width="66.5" height="14.3" fill="#fff" stroke="#000" stroke-width="1"/>
<path d="M593.7 34.1 h23" stroke="#000" stroke-width="0.6"/>
<text transform="translate(655.9 38.6) scale(1 1.08)" font-size="11.3" font-weight="bold" text-anchor="end">σ= 0.02</text>
<text transform="translate(535.9 36.6) scale(1 1.12)" font-size="11" font-weight="bold" text-anchor="end">0.2</text>
<text transform="translate(535.9 56.7) scale(1 1.12)" font-size="11" font-weight="bold" text-anchor="end">0.1</text>
<text transform="translate(535.9 76.9) scale(1 1.12)" font-size="11" font-weight="bold" text-anchor="end">0.0</text>
<text transform="translate(535.9 97.1) scale(1 1.12)" font-size="11" font-weight="bold" text-anchor="end">-0.1</text>
<text transform="translate(535.9 117.2) scale(1 1.12)" font-size="11" font-weight="bold" text-anchor="end">-0.2</text>
<text transform="translate(538.7 134.7) scale(1 1.12)" font-size="11" font-weight="bold" text-anchor="middle">0</text>
<text transform="translate(570.1 134.7) scale(1 1.12)" font-size="11" font-weight="bold" text-anchor="middle">250</text>
<text transform="translate(601.5 134.7) scale(1 1.12)" font-size="11" font-weight="bold" text-anchor="middle">500</text>
<text transform="translate(632.9 134.7) scale(1 1.12)" font-size="11" font-weight="bold" text-anchor="middle">750</text>
<text transform="translate(664.3 134.7) scale(1 1.12)" font-size="11" font-weight="bold" text-anchor="middle">1000</text>
<text x="615.6" y="143.7" font-size="14" font-weight="bold" font-style="italic" text-anchor="middle">t</text>
<text x="509.8" y="77.2" font-size="17" font-weight="bold" font-style="italic">u</text>
<path d="M496.300 84.300 h0 M501.200 84.300 h0 M506.100 84.300 h0" stroke="#000" stroke-width="3.100" stroke-linecap="round"/>
<text x="387" y="168.9" font-size="15.7">slow-varying amplitude</text>
<text x="8" y="175" font-size="16">(c)</text>
<rect x="9.8" y="179.1" width="179.9" height="295" rx="5" fill="#fff" stroke="#000" stroke-width="1.200" stroke-dasharray="4 2.200"/>
<text x="112" y="190.6" font-size="16" fill="#1AAA55" text-anchor="middle">σ=-0.02</text>
<g stroke="#FF0000" stroke-width="2.3" fill="none"><path d="M37.6 198.8 H178.6" stroke-dasharray="10.9 5.9"/><path d="M37.6 309.7 H178.6 M38.8 310.8 V198.8 M177.4 310.8 V198.8" stroke-dasharray="11.1 11.15"/></g>
<path d="M38.8 226.5 L39.1 226.6 L39.5 226.7 L39.8 226.8 L40.2 227 L40.5 227.2 L40.9 227.6 L41.2 227.9 L41.6 228.3 L41.9 228.8 L42.3 229.3 L42.6 229.8 L43 230.4 L43.3 231.1 L43.7 231.7 L44 232.5 L44.3 233.2 L44.7 234 L45 234.8 L45.4 235.7 L45.7 236.6 L46.1 237.5 L46.4 238.5 L46.8 239.4 L47.1 240.4 L47.5 241.4 L47.8 242.4 L48.2 243.5 L48.5 244.5 L48.8 245.6 L49.2 246.6 L49.5 247.7 L49.9 248.7 L50.2 249.8 L50.6 250.8 L50.9 251.8 L51.3 252.9 L51.6 253.9 L52 254.8 L52.3 255.8 L52.7 256.8 L53 257.7 L53.4 258.6 L53.7 259.4 L54 260.3 L54.4 261 L54.7 261.8 L55.1 262.5 L55.4 263.2 L55.8 263.8 L56.1 264.4 L56.5 265 L56.8 265.5 L57.2 266 L57.5 266.4 L57.9 266.7 L58.2 267 L58.6 267.3 L58.9 267.5 L59.2 267.7 L59.6 267.8 L59.9 267.8 L60.3 267.8 L60.6 267.8 L61 267.6 L61.3 267.5 L61.7 267.3 L62 267 L62.4 266.7 L62.7 266.3 L63.1 265.9 L63.4 265.4 L63.7 264.9 L64.1 264.4 L64.4 263.8 L64.8 263.2 L65.1 262.5 L65.5 261.8 L65.8 261 L66.2 260.2 L66.5 259.4 L66.9 258.5 L67.2 257.7 L67.6 256.8 L67.9 255.8 L68.3 254.9 L68.6 253.9 L68.9 252.9 L69.3 251.9 L69.6 250.9 L70 249.9 L70.3 248.9 L70.7 247.9 L71 246.8 L71.4 245.8 L71.7 244.8 L72.1 243.8 L72.4 242.8 L72.8 241.8 L73.1 240.8 L73.5 239.9 L73.8 239 L74.1 238.1 L74.5 237.2 L74.8 236.3 L75.2 235.5 L75.5 234.7 L75.9 233.9 L76.2 233.2 L76.6 232.5 L76.9 231.9 L77.3 231.3 L77.6 230.7 L78 230.2 L78.3 229.7 L78.6 229.3 L79 228.9 L79.3 228.6 L79.7 228.3 L80 228.1 L80.4 227.9 L80.7 227.8 L81.1 227.7 L81.4 227.7 L81.8 227.7 L82.1 227.8 L82.5 227.9 L82.8 228.1 L83.2 228.3 L83.5 228.6 L83.8 228.9 L84.2 229.3 L84.5 229.7 L84.9 230.2 L85.2 230.7 L85.6 231.2 L85.9 231.8 L86.3 232.5 L86.6 233.1 L87 233.8 L87.3 234.6 L87.7 235.4 L88 236.2 L88.3 237 L88.7 237.9 L89 238.8 L89.4 239.7 L89.7 240.6 L90.1 241.6 L90.4 242.5 L90.8 243.5 L91.1 244.5 L91.5 245.5 L91.8 246.5 L92.2 247.5 L92.5 248.5 L92.9 249.4 L93.2 250.4 L93.5 251.4 L93.9 252.4 L94.2 253.3 L94.6 254.3 L94.9 255.2 L95.3 256.1 L95.6 256.9 L96 257.8 L96.3 258.6 L96.7 259.4 L97 260.2 L97.4 260.9 L97.7 261.6 L98.1 262.2 L98.4 262.8 L98.7 263.4 L99.1 264 L99.4 264.4 L99.8 264.9 L100.1 265.3 L100.5 265.6 L100.8 265.9 L101.2 266.2 L101.5 266.4 L101.9 266.5 L102.2 266.7 L102.6 266.7 L102.9 266.7 L103.2 266.7 L103.6 266.6 L103.9 266.4 L104.3 266.2 L104.6 266 L105 265.7 L105.3 265.4 L105.7 265 L106 264.6 L106.4 264.1 L106.7 263.6 L107.1 263 L107.4 262.4 L107.8 261.8 L108.1 261.1 L108.4 260.4 L108.8 259.7 L109.1 258.9 L109.5 258.1 L109.8 257.3 L110.2 256.4 L110.5 255.6 L110.9 254.7 L111.2 253.7 L111.6 252.8 L111.9 251.9 L112.3 250.9 L112.6 250 L113 249 L113.3 248 L113.6 247.1 L114 246.1 L114.3 245.1 L114.7 244.2 L115 243.2 L115.4 242.3 L115.7 241.4 L116.1 240.5 L116.4 239.6 L116.8 238.7 L117.1 237.9 L117.5 237.1 L117.8 236.3 L118.1 235.5 L118.5 234.8 L118.8 234.1 L119.2 233.5 L119.5 232.8 L119.9 232.3 L120.2 231.7 L120.6 231.2 L120.9 230.8 L121.3 230.4 L121.6 230 L122 229.7 L122.3 229.4 L122.7 229.2 L123 229 L123.3 228.8 L123.7 228.8 L124 228.7 L124.4 228.7 L124.7 228.8 L125.1 228.9 L125.4 229.1 L125.8 229.3 L126.1 229.5 L126.5 229.8 L126.8 230.2 L127.2 230.6 L127.5 231 L127.9 231.5 L128.2 232 L128.5 232.5 L128.9 233.1 L129.2 233.8 L129.6 234.4 L129.9 235.1 L130.3 235.9 L130.6 236.6 L131 237.4 L131.3 238.2 L131.7 239.1 L132 239.9 L132.4 240.8 L132.7 241.7 L133 242.6 L133.4 243.5 L133.7 244.5 L134.1 245.4 L134.4 246.3 L134.8 247.3 L135.1 248.2 L135.5 249.2 L135.8 250.1 L136.2 251 L136.5 251.9 L136.9 252.8 L137.2 253.7 L137.6 254.6 L137.9 255.4 L138.2 256.3 L138.6 257.1 L138.9 257.9 L139.3 258.6 L139.6 259.3 L140 260 L140.3 260.7 L140.7 261.3 L141 261.9 L141.4 262.5 L141.7 263 L142.1 263.4 L142.4 263.9 L142.8 264.2 L143.1 264.6 L143.4 264.9 L143.8 265.1 L144.1 265.3 L144.5 265.5 L144.8 265.6 L145.2 265.7 L145.5 265.7 L145.9 265.6 L146.2 265.6 L146.6 265.4 L146.9 265.3 L147.3 265.1 L147.6 264.8 L147.9 264.5 L148.3 264.1 L148.6 263.7 L149 263.3 L149.3 262.8 L149.7 262.3 L150 261.7 L150.4 261.1 L150.7 260.5 L151.1 259.9 L151.4 259.2 L151.8 258.4 L152.1 257.7 L152.5 256.9 L152.8 256.1 L153.1 255.3 L153.5 254.4 L153.8 253.6 L154.2 252.7 L154.5 251.8 L154.9 250.9 L155.2 250 L155.6 249.1 L155.9 248.2 L156.3 247.3 L156.6 246.4 L157 245.4 L157.3 244.5 L157.6 243.6 L158 242.8 L158.3 241.9 L158.7 241 L159 240.2 L159.4 239.4 L159.7 238.6 L160.1 237.8 L160.4 237 L160.8 236.3 L161.1 235.6 L161.5 235 L161.8 234.3 L162.2 233.7 L162.5 233.2 L162.8 232.7 L163.2 232.2 L163.5 231.7 L163.9 231.3 L164.2 231 L164.6 230.7 L164.9 230.4 L165.3 230.2 L165.6 230 L166 229.9 L166.3 229.8 L166.7 229.7 L167 229.7 L167.4 229.8 L167.7 229.9 L168 230 L168.4 230.2 L168.7 230.4 L169.1 230.7 L169.4 231 L169.8 231.4 L170.1 231.8 L170.5 232.2 L170.8 232.7 L171.2 233.2 L171.5 233.8 L171.9 234.4 L172.2 235 L172.5 235.7 L172.9 236.4 L173.2 237.1 L173.6 237.8 L173.9 238.6 L174.3 239.4 L174.6 240.2 L175 241 L175.3 241.8 L175.7 242.7 L176 243.6 L176.4 244.4 L176.7 245.3 L177.1 246.2 L177.4 247.1" fill="none" stroke="#FF0000" stroke-width="2.400" stroke-linejoin="round"/>
<rect x="74.5" y="203.2" width="91.3" height="20.4" fill="#fff" stroke="#FF0000" stroke-width="1.1"/>
<path d="M76 213.4 h33.500" stroke="#FF0000" stroke-width="1.900"/>
<text transform="translate(163.2 218.8) scale(1 1.08)" font-size="14.5" fill="#FF0000" font-weight="bold" text-anchor="end">σ= -0.02</text>
<text transform="translate(36.1 203.9) scale(1 1.15)" font-size="12.3" fill="#FF0000" font-weight="bold" text-anchor="end">0.2</text>
<text transform="translate(36.1 231.6) scale(1 1.15)" font-size="12.3" fill="#FF0000" font-weight="bold" text-anchor="end">0.1</text>
<text transform="translate(36.1 259.4) scale(1 1.15)" font-size="12.3" fill="#FF0000" font-weight="bold" text-anchor="end">0.0</text>
<text transform="translate(36.1 287.1) scale(1 1.15)" font-size="12.3" fill="#FF0000" font-weight="bold" text-anchor="end">-0.1</text>
<text transform="translate(36.1 314.8) scale(1 1.15)" font-size="12.3" fill="#FF0000" font-weight="bold" text-anchor="end">-0.2</text>
<text transform="translate(38.8 322.9) scale(1 1.14)" font-size="12.5" fill="#FF0000" font-weight="bold" text-anchor="middle">0</text>
<text transform="translate(73.5 322.9) scale(1 1.14)" font-size="12.5" fill="#FF0000" font-weight="bold" text-anchor="middle">250</text>
<text transform="translate(108.1 322.9) scale(1 1.14)" font-size="12.5" fill="#FF0000" font-weight="bold" text-anchor="middle">500</text>
<text transform="translate(142.8 322.9) scale(1 1.14)" font-size="12.5" fill="#FF0000" font-weight="bold" text-anchor="middle">750</text>
<text transform="translate(177.4 322.9) scale(1 1.14)" font-size="12.5" fill="#FF0000" font-weight="bold" text-anchor="middle">1000</text>
<text x="124.7" y="332.7" font-size="15" fill="#FF0000" font-weight="bold" font-style="italic" text-anchor="middle">t</text>
<text x="10" y="270.3" font-size="18.5" fill="#FF0000" font-weight="bold" font-style="italic">p</text>
<g stroke="#0000FF" stroke-width="2.3" fill="none"><path d="M35.4 339.6 H178.2" stroke-dasharray="11.1 11.15"/><path d="M35.4 451.3 H178.2 M36.5 452.4 V339.6 M177 452.4 V339.6" stroke-dasharray="11.1 11.15"/></g>
<path d="M36.5 402.9 L36.9 404.1 L37.2 405.3 L37.6 406.5 L37.9 407.7 L38.3 408.9 L38.6 410 L39 411.2 L39.3 412.3 L39.7 413.3 L40 414.4 L40.4 415.4 L40.7 416.4 L41.1 417.4 L41.4 418.3 L41.8 419.2 L42.1 420 L42.5 420.8 L42.8 421.5 L43.2 422.2 L43.5 422.9 L43.9 423.5 L44.2 424 L44.6 424.5 L44.9 424.9 L45.3 425.3 L45.6 425.6 L46 425.8 L46.3 426 L46.7 426.1 L47 426.2 L47.4 426.2 L47.7 426.2 L48.1 426.1 L48.4 425.9 L48.8 425.6 L49.1 425.4 L49.5 425 L49.8 424.6 L50.2 424.1 L50.5 423.6 L50.9 423 L51.3 422.4 L51.6 421.8 L52 421 L52.3 420.3 L52.7 419.5 L53 418.6 L53.4 417.7 L53.7 416.8 L54.1 415.8 L54.4 414.8 L54.8 413.8 L55.1 412.7 L55.5 411.6 L55.8 410.5 L56.2 409.4 L56.5 408.3 L56.9 407.1 L57.2 406 L57.6 404.8 L57.9 403.6 L58.3 402.5 L58.6 401.3 L59 400.1 L59.3 399 L59.7 397.8 L60 396.7 L60.4 395.6 L60.7 394.5 L61.1 393.4 L61.4 392.4 L61.8 391.4 L62.1 390.4 L62.5 389.4 L62.8 388.5 L63.2 387.6 L63.5 386.8 L63.9 386 L64.2 385.2 L64.6 384.5 L65 383.9 L65.3 383.3 L65.7 382.7 L66 382.2 L66.4 381.8 L66.7 381.4 L67.1 381.1 L67.4 380.8 L67.8 380.6 L68.1 380.4 L68.5 380.3 L68.8 380.3 L69.2 380.3 L69.5 380.4 L69.9 380.5 L70.2 380.7 L70.6 380.9 L70.9 381.2 L71.3 381.6 L71.6 382 L72 382.5 L72.3 383 L72.7 383.6 L73 384.2 L73.4 384.9 L73.7 385.6 L74.1 386.4 L74.4 387.2 L74.8 388 L75.1 388.9 L75.5 389.8 L75.8 390.8 L76.2 391.8 L76.5 392.8 L76.9 393.8 L77.2 394.9 L77.6 396 L77.9 397.1 L78.3 398.2 L78.7 399.3 L79 400.4 L79.4 401.6 L79.7 402.7 L80.1 403.8 L80.4 405 L80.8 406.1 L81.1 407.2 L81.5 408.3 L81.8 409.4 L82.2 410.5 L82.5 411.6 L82.9 412.6 L83.2 413.6 L83.6 414.6 L83.9 415.5 L84.3 416.4 L84.6 417.3 L85 418.1 L85.3 418.9 L85.7 419.7 L86 420.4 L86.4 421.1 L86.7 421.7 L87.1 422.2 L87.4 422.8 L87.8 423.2 L88.1 423.6 L88.5 424 L88.8 424.3 L89.2 424.5 L89.5 424.7 L89.9 424.9 L90.2 424.9 L90.6 425 L90.9 424.9 L91.3 424.8 L91.6 424.7 L92 424.5 L92.3 424.2 L92.7 423.9 L93.1 423.5 L93.4 423.1 L93.8 422.6 L94.1 422.1 L94.5 421.5 L94.8 420.9 L95.2 420.2 L95.5 419.5 L95.9 418.7 L96.2 417.9 L96.6 417.1 L96.9 416.2 L97.3 415.3 L97.6 414.4 L98 413.4 L98.3 412.4 L98.7 411.4 L99 410.3 L99.4 409.3 L99.7 408.2 L100.1 407.1 L100.4 406 L100.8 404.9 L101.1 403.8 L101.5 402.7 L101.8 401.6 L102.2 400.5 L102.5 399.4 L102.9 398.3 L103.2 397.2 L103.6 396.2 L103.9 395.1 L104.3 394.1 L104.6 393.1 L105 392.2 L105.3 391.2 L105.7 390.3 L106 389.4 L106.4 388.6 L106.8 387.8 L107.1 387.1 L107.5 386.3 L107.8 385.7 L108.2 385 L108.5 384.5 L108.9 383.9 L109.2 383.4 L109.6 383 L109.9 382.6 L110.3 382.3 L110.6 382 L111 381.8 L111.3 381.6 L111.7 381.5 L112 381.5 L112.4 381.5 L112.7 381.6 L113.1 381.7 L113.4 381.8 L113.8 382.1 L114.1 382.3 L114.5 382.7 L114.8 383.1 L115.2 383.5 L115.5 384 L115.9 384.5 L116.2 385.1 L116.6 385.7 L116.9 386.4 L117.3 387.1 L117.6 387.9 L118 388.7 L118.3 389.5 L118.7 390.4 L119 391.3 L119.4 392.2 L119.7 393.1 L120.1 394.1 L120.4 395.1 L120.8 396.1 L121.2 397.2 L121.5 398.2 L121.9 399.3 L122.2 400.3 L122.6 401.4 L122.9 402.5 L123.3 403.6 L123.6 404.6 L124 405.7 L124.3 406.8 L124.7 407.8 L125 408.9 L125.4 409.9 L125.7 410.9 L126.1 411.9 L126.4 412.8 L126.8 413.8 L127.1 414.7 L127.5 415.5 L127.8 416.4 L128.2 417.2 L128.5 417.9 L128.9 418.6 L129.2 419.3 L129.6 420 L129.9 420.6 L130.3 421.1 L130.6 421.6 L131 422.1 L131.3 422.5 L131.7 422.8 L132 423.1 L132.4 423.3 L132.7 423.5 L133.1 423.7 L133.4 423.8 L133.8 423.8 L134.1 423.8 L134.5 423.7 L134.8 423.5 L135.2 423.4 L135.6 423.1 L135.9 422.8 L136.3 422.5 L136.6 422.1 L137 421.6 L137.3 421.1 L137.7 420.6 L138 420 L138.4 419.4 L138.7 418.7 L139.1 418 L139.4 417.3 L139.8 416.5 L140.1 415.7 L140.5 414.8 L140.8 413.9 L141.2 413 L141.5 412.1 L141.9 411.1 L142.2 410.1 L142.6 409.1 L142.9 408.1 L143.3 407.1 L143.6 406.1 L144 405 L144.3 404 L144.7 402.9 L145 401.9 L145.4 400.8 L145.7 399.8 L146.1 398.8 L146.4 397.7 L146.8 396.7 L147.1 395.8 L147.5 394.8 L147.8 393.8 L148.2 392.9 L148.5 392 L148.9 391.2 L149.3 390.3 L149.6 389.5 L150 388.8 L150.3 388 L150.7 387.4 L151 386.7 L151.4 386.1 L151.7 385.6 L152.1 385 L152.4 384.6 L152.8 384.2 L153.1 383.8 L153.5 383.5 L153.8 383.2 L154.2 383 L154.5 382.8 L154.9 382.7 L155.2 382.6 L155.6 382.6 L155.9 382.7 L156.3 382.8 L156.6 382.9 L157 383.1 L157.3 383.4 L157.7 383.7 L158 384.1 L158.4 384.5 L158.7 384.9 L159.1 385.4 L159.4 385.9 L159.8 386.5 L160.1 387.2 L160.5 387.8 L160.8 388.5 L161.2 389.3 L161.5 390.1 L161.9 390.9 L162.2 391.7 L162.6 392.6 L162.9 393.5 L163.3 394.4 L163.7 395.3 L164 396.3 L164.4 397.3 L164.7 398.3 L165.1 399.3 L165.4 400.3 L165.8 401.3 L166.1 402.3 L166.5 403.3 L166.8 404.4 L167.2 405.4 L167.5 406.4 L167.9 407.4 L168.2 408.4 L168.6 409.3 L168.9 410.3 L169.3 411.2 L169.6 412.1 L170 413 L170.3 413.9 L170.7 414.7 L171 415.5 L171.4 416.2 L171.7 417 L172.1 417.7 L172.4 418.3 L172.8 418.9 L173.1 419.5 L173.5 420 L173.8 420.5 L174.2 420.9 L174.5 421.3 L174.9 421.7 L175.2 422 L175.6 422.2 L175.9 422.4 L176.3 422.5 L176.6 422.6 L177 422.7" fill="none" stroke="#0000FF" stroke-width="2.400" stroke-linejoin="round"/>
<rect x="72.4" y="343.4" width="92.6" height="20.4" fill="#fff" stroke="#0000FF" stroke-width="1.1"/>
<path d="M73.9 353.6 h33.500" stroke="#0000FF" stroke-width="1.900"/>
<text transform="translate(162.4 359) scale(1 1.08)" font-size="14.5" fill="#0000FF" font-weight="bold" text-anchor="end">σ= -0.02</text>
<text transform="translate(33.8 344.7) scale(1 1.15)" font-size="12.3" fill="#0000FF" font-weight="bold" text-anchor="end">0.2</text>
<text transform="translate(33.8 376.8) scale(1 1.15)" font-size="12.3" fill="#0000FF" font-weight="bold" text-anchor="end">0.1</text>
<text transform="translate(33.8 409) scale(1 1.15)" font-size="12.3" fill="#0000FF" font-weight="bold" text-anchor="end">0.0</text>
<text transform="translate(33.8 441.1) scale(1 1.15)" font-size="12.3" fill="#0000FF" font-weight="bold" text-anchor="end">-0.1</text>
<text transform="translate(36.5 464.5) scale(1 1.14)" font-size="12.5" fill="#0000FF" font-weight="bold" text-anchor="middle">0</text>
<text transform="translate(71.6 464.5) scale(1 1.14)" font-size="12.5" fill="#0000FF" font-weight="bold" text-anchor="middle">250</text>
<text transform="translate(106.8 464.5) scale(1 1.14)" font-size="12.5" fill="#0000FF" font-weight="bold" text-anchor="middle">500</text>
<text transform="translate(141.9 464.5) scale(1 1.14)" font-size="12.5" fill="#0000FF" font-weight="bold" text-anchor="middle">750</text>
<text transform="translate(177 464.5) scale(1 1.14)" font-size="12.5" fill="#0000FF" font-weight="bold" text-anchor="middle">1000</text>
<text x="123.6" y="474.3" font-size="15" fill="#0000FF" font-weight="bold" font-style="italic" text-anchor="middle">t</text>
<text x="10.3" y="391.5" font-size="18.5" fill="#0000FF" font-weight="bold" font-style="italic">q</text>
<rect x="198.6" y="179.1" width="179.7" height="295" rx="5" fill="#fff" stroke="#000" stroke-width="1.200" stroke-dasharray="4 2.200"/>
<text x="292" y="190.6" font-size="16" fill="#1AAA55" text-anchor="middle">σ=-0.019</text>
<g stroke="#FF0000" stroke-width="2.3" fill="none"><path d="M226.8 198.8 H367.8" stroke-dasharray="11.1 11.15"/><path d="M226.8 309.7 H367.8 M228 310.8 V198.8 M366.6 310.8 V198.8" stroke-dasharray="11.1 11.15"/></g>
<path d="M228 226.5 L228.3 226.6 L228.7 226.6 L229 226.8 L229.4 226.9 L229.7 227.2 L230.1 227.4 L230.4 227.8 L230.8 228.1 L231.1 228.5 L231.5 229 L231.8 229.5 L232.2 230 L232.5 230.6 L232.9 231.2 L233.2 231.9 L233.5 232.5 L233.9 233.3 L234.2 234 L234.6 234.8 L234.9 235.6 L235.3 236.4 L235.6 237.3 L236 238.2 L236.3 239.1 L236.7 240 L237 240.9 L237.4 241.9 L237.7 242.8 L238 243.8 L238.4 244.8 L238.7 245.8 L239.1 246.8 L239.4 247.7 L239.8 248.7 L240.1 249.7 L240.5 250.6 L240.8 251.6 L241.2 252.5 L241.5 253.5 L241.9 254.4 L242.2 255.3 L242.6 256.2 L242.9 257 L243.2 257.8 L243.6 258.6 L243.9 259.4 L244.3 260.1 L244.6 260.8 L245 261.5 L245.3 262.2 L245.7 262.8 L246 263.3 L246.4 263.8 L246.7 264.3 L247.1 264.8 L247.4 265.2 L247.8 265.5 L248.1 265.8 L248.4 266.1 L248.8 266.3 L249.1 266.5 L249.5 266.6 L249.8 266.7 L250.2 266.7 L250.5 266.7 L250.9 266.6 L251.2 266.5 L251.6 266.3 L251.9 266.1 L252.3 265.9 L252.6 265.6 L252.9 265.3 L253.3 264.9 L253.6 264.4 L254 264 L254.3 263.5 L254.7 262.9 L255 262.3 L255.4 261.7 L255.7 261.1 L256.1 260.4 L256.4 259.7 L256.8 258.9 L257.1 258.1 L257.5 257.3 L257.8 256.5 L258.1 255.6 L258.5 254.8 L258.8 253.9 L259.2 253 L259.5 252.1 L259.9 251.1 L260.2 250.2 L260.6 249.3 L260.9 248.3 L261.3 247.3 L261.6 246.4 L262 245.4 L262.3 244.5 L262.6 243.6 L263 242.6 L263.3 241.7 L263.7 240.8 L264 239.9 L264.4 239 L264.7 238.2 L265.1 237.3 L265.4 236.5 L265.8 235.8 L266.1 235 L266.5 234.3 L266.8 233.6 L267.2 232.9 L267.5 232.3 L267.8 231.7 L268.2 231.1 L268.5 230.6 L268.9 230.1 L269.2 229.7 L269.6 229.3 L269.9 228.9 L270.3 228.6 L270.6 228.3 L271 228.1 L271.3 227.9 L271.7 227.8 L272 227.7 L272.4 227.7 L272.7 227.7 L273 227.7 L273.4 227.8 L273.7 228 L274.1 228.1 L274.4 228.4 L274.8 228.6 L275.1 229 L275.5 229.3 L275.8 229.7 L276.2 230.2 L276.5 230.6 L276.9 231.2 L277.2 231.7 L277.5 232.3 L277.9 232.9 L278.2 233.6 L278.6 234.3 L278.9 235 L279.3 235.8 L279.6 236.5 L280 237.3 L280.3 238.2 L280.7 239 L281 239.8 L281.4 240.7 L281.7 241.6 L282.1 242.5 L282.4 243.4 L282.7 244.3 L283.1 245.3 L283.4 246.2 L283.8 247.1 L284.1 248 L284.5 249 L284.8 249.9 L285.2 250.8 L285.5 251.7 L285.9 252.6 L286.2 253.4 L286.6 254.3 L286.9 255.1 L287.3 255.9 L287.6 256.7 L287.9 257.5 L288.3 258.2 L288.6 259 L289 259.6 L289.3 260.3 L289.7 260.9 L290 261.5 L290.4 262.1 L290.7 262.6 L291.1 263.1 L291.4 263.5 L291.8 263.9 L292.1 264.3 L292.4 264.6 L292.8 264.9 L293.1 265.1 L293.5 265.3 L293.8 265.4 L294.2 265.5 L294.5 265.6 L294.9 265.6 L295.2 265.6 L295.6 265.5 L295.9 265.4 L296.3 265.2 L296.6 265 L297 264.7 L297.3 264.4 L297.6 264.1 L298 263.7 L298.3 263.3 L298.7 262.8 L299 262.3 L299.4 261.8 L299.7 261.3 L300.1 260.7 L300.4 260 L300.8 259.4 L301.1 258.7 L301.5 258 L301.8 257.2 L302.2 256.4 L302.5 255.7 L302.8 254.8 L303.2 254 L303.5 253.2 L303.9 252.3 L304.2 251.4 L304.6 250.6 L304.9 249.7 L305.3 248.8 L305.6 247.9 L306 247 L306.3 246.1 L306.7 245.2 L307 244.3 L307.3 243.4 L307.7 242.5 L308 241.7 L308.4 240.8 L308.7 240 L309.1 239.2 L309.4 238.4 L309.8 237.6 L310.1 236.8 L310.5 236.1 L310.8 235.4 L311.2 234.7 L311.5 234.1 L311.9 233.5 L312.2 232.9 L312.5 232.3 L312.9 231.8 L313.2 231.3 L313.6 230.9 L313.9 230.5 L314.3 230.1 L314.6 229.8 L315 229.5 L315.3 229.3 L315.7 229.1 L316 229 L316.4 228.8 L316.7 228.8 L317.1 228.8 L317.4 228.8 L317.7 228.8 L318.1 228.9 L318.4 229.1 L318.8 229.3 L319.1 229.5 L319.5 229.8 L319.8 230.1 L320.2 230.5 L320.5 230.8 L320.9 231.3 L321.2 231.7 L321.6 232.2 L321.9 232.8 L322.2 233.4 L322.6 234 L322.9 234.6 L323.3 235.3 L323.6 235.9 L324 236.7 L324.3 237.4 L324.7 238.2 L325 238.9 L325.4 239.7 L325.7 240.6 L326.1 241.4 L326.4 242.2 L326.8 243.1 L327.1 243.9 L327.4 244.8 L327.8 245.7 L328.1 246.6 L328.5 247.4 L328.8 248.3 L329.2 249.2 L329.5 250 L329.9 250.9 L330.2 251.7 L330.6 252.6 L330.9 253.4 L331.3 254.2 L331.6 255 L332 255.7 L332.3 256.5 L332.6 257.2 L333 257.9 L333.3 258.5 L333.7 259.2 L334 259.8 L334.4 260.4 L334.7 260.9 L335.1 261.4 L335.4 261.9 L335.8 262.3 L336.1 262.7 L336.5 263.1 L336.8 263.4 L337.1 263.7 L337.5 263.9 L337.8 264.1 L338.2 264.3 L338.5 264.4 L338.9 264.5 L339.2 264.5 L339.6 264.5 L339.9 264.5 L340.3 264.4 L340.6 264.3 L341 264.1 L341.3 263.9 L341.7 263.6 L342 263.3 L342.3 263 L342.7 262.6 L343 262.2 L343.4 261.8 L343.7 261.3 L344.1 260.8 L344.4 260.2 L344.8 259.7 L345.1 259.1 L345.5 258.4 L345.8 257.8 L346.2 257.1 L346.5 256.4 L346.8 255.6 L347.2 254.9 L347.5 254.1 L347.9 253.3 L348.2 252.5 L348.6 251.7 L348.9 250.9 L349.3 250 L349.6 249.2 L350 248.4 L350.3 247.5 L350.7 246.7 L351 245.8 L351.4 245 L351.7 244.1 L352 243.3 L352.4 242.5 L352.7 241.7 L353.1 240.9 L353.4 240.1 L353.8 239.3 L354.1 238.6 L354.5 237.8 L354.8 237.1 L355.2 236.5 L355.5 235.8 L355.9 235.2 L356.2 234.6 L356.6 234 L356.9 233.5 L357.2 233 L357.6 232.5 L357.9 232.1 L358.3 231.7 L358.6 231.3 L359 231 L359.3 230.7 L359.7 230.4 L360 230.2 L360.4 230 L360.7 229.9 L361.1 229.8 L361.4 229.8 L361.7 229.8 L362.1 229.8 L362.4 229.9 L362.8 230 L363.1 230.2 L363.5 230.3 L363.8 230.6 L364.2 230.9 L364.5 231.2 L364.9 231.5 L365.2 231.9 L365.6 232.3 L365.9 232.8 L366.3 233.3 L366.6 233.8" fill="none" stroke="#FF0000" stroke-width="2.400" stroke-linejoin="round"/>
<rect x="262.4" y="203.2" width="99.2" height="20.4" fill="#fff" stroke="#FF0000" stroke-width="1.1"/>
<path d="M263.9 213.4 h33.500" stroke="#FF0000" stroke-width="1.900"/>
<text transform="translate(359 218.8) scale(1 1.08)" font-size="14.5" fill="#FF0000" font-weight="bold" text-anchor="end">σ= -0.019</text>
<text transform="translate(225.3 203.9) scale(1 1.15)" font-size="12.3" fill="#FF0000" font-weight="bold" text-anchor="end">0.2</text>
<text transform="translate(225.3 231.6) scale(1 1.15)" font-size="12.3" fill="#FF0000" font-weight="bold" text-anchor="end">0.1</text>
<text transform="translate(225.3 259.4) scale(1 1.15)" font-size="12.3" fill="#FF0000" font-weight="bold" text-anchor="end">0.0</text>
<text transform="translate(225.3 287.1) scale(1 1.15)" font-size="12.3" fill="#FF0000" font-weight="bold" text-anchor="end">-0.1</text>
<text transform="translate(225.3 314.8) scale(1 1.15)" font-size="12.3" fill="#FF0000" font-weight="bold" text-anchor="end">-0.2</text>
<text transform="translate(228 322.9) scale(1 1.14)" font-size="12.5" fill="#FF0000" font-weight="bold" text-anchor="middle">0</text>
<text transform="translate(262.6 322.9) scale(1 1.14)" font-size="12.5" fill="#FF0000" font-weight="bold" text-anchor="middle">250</text>
<text transform="translate(297.3 322.9) scale(1 1.14)" font-size="12.5" fill="#FF0000" font-weight="bold" text-anchor="middle">500</text>
<text transform="translate(332 322.9) scale(1 1.14)" font-size="12.5" fill="#FF0000" font-weight="bold" text-anchor="middle">750</text>
<text transform="translate(366.6 322.9) scale(1 1.14)" font-size="12.5" fill="#FF0000" font-weight="bold" text-anchor="middle">1000</text>
<text x="313.9" y="332.7" font-size="15" fill="#FF0000" font-weight="bold" font-style="italic" text-anchor="middle">t</text>
<text x="198.5" y="270.3" font-size="18.5" fill="#FF0000" font-weight="bold" font-style="italic">p</text>
<g stroke="#0000FF" stroke-width="2.3" fill="none"><path d="M227 339.6 H369.4" stroke-dasharray="11.1 11.15"/><path d="M227 451.3 H369.4 M228.2 452.4 V339.6 M368.3 452.4 V339.6" stroke-dasharray="11.1 11.15"/></g>
<path d="M228.2 402.9 L228.6 404.1 L228.9 405.2 L229.3 406.4 L229.6 407.5 L230 408.6 L230.3 409.7 L230.7 410.8 L231 411.9 L231.4 412.9 L231.7 414 L232.1 415 L232.4 415.9 L232.8 416.9 L233.1 417.8 L233.5 418.6 L233.8 419.4 L234.2 420.2 L234.5 421 L234.9 421.7 L235.2 422.3 L235.6 422.9 L235.9 423.5 L236.3 424 L236.6 424.5 L237 424.9 L237.3 425.2 L237.7 425.5 L238 425.8 L238.4 426 L238.7 426.1 L239.1 426.2 L239.4 426.2 L239.8 426.2 L240.1 426.1 L240.5 426 L240.8 425.8 L241.2 425.5 L241.5 425.2 L241.9 424.9 L242.2 424.4 L242.6 424 L242.9 423.5 L243.3 422.9 L243.6 422.3 L244 421.7 L244.3 421 L244.7 420.2 L245 419.5 L245.4 418.6 L245.7 417.8 L246.1 416.9 L246.4 416 L246.8 415 L247.1 414.1 L247.5 413 L247.8 412 L248.2 411 L248.5 409.9 L248.9 408.8 L249.2 407.7 L249.6 406.6 L249.9 405.5 L250.3 404.4 L250.6 403.3 L251 402.2 L251.3 401 L251.7 399.9 L252 398.8 L252.4 397.7 L252.7 396.6 L253.1 395.6 L253.4 394.5 L253.8 393.5 L254.1 392.5 L254.5 391.5 L254.8 390.6 L255.2 389.7 L255.5 388.8 L255.9 387.9 L256.2 387.1 L256.6 386.3 L256.9 385.6 L257.3 384.9 L257.6 384.3 L258 383.7 L258.3 383.1 L258.7 382.6 L259 382.1 L259.4 381.7 L259.7 381.4 L260.1 381 L260.4 380.8 L260.8 380.6 L261.1 380.4 L261.5 380.3 L261.8 380.3 L262.2 380.3 L262.5 380.4 L262.9 380.5 L263.2 380.7 L263.6 380.9 L263.9 381.2 L264.3 381.5 L264.6 381.9 L265 382.3 L265.3 382.8 L265.7 383.3 L266 383.9 L266.4 384.5 L266.7 385.2 L267.1 385.9 L267.4 386.6 L267.8 387.4 L268.1 388.2 L268.5 389.1 L268.8 390 L269.2 390.9 L269.5 391.8 L269.9 392.8 L270.2 393.8 L270.6 394.8 L270.9 395.8 L271.3 396.9 L271.6 397.9 L272 399 L272.3 400.1 L272.7 401.2 L273 402.2 L273.4 403.3 L273.7 404.4 L274.1 405.5 L274.4 406.6 L274.8 407.6 L275.1 408.7 L275.5 409.7 L275.8 410.8 L276.2 411.8 L276.5 412.7 L276.9 413.7 L277.2 414.6 L277.6 415.5 L277.9 416.4 L278.3 417.2 L278.6 418 L279 418.8 L279.3 419.5 L279.7 420.2 L280 420.9 L280.4 421.5 L280.7 422 L281.1 422.5 L281.4 423 L281.8 423.4 L282.1 423.8 L282.5 424.1 L282.8 424.4 L283.2 424.6 L283.5 424.7 L283.9 424.8 L284.2 424.9 L284.6 424.9 L284.9 424.8 L285.3 424.7 L285.6 424.6 L286 424.4 L286.3 424.1 L286.7 423.8 L287 423.5 L287.4 423.1 L287.7 422.6 L288.1 422.1 L288.4 421.6 L288.8 421 L289.1 420.4 L289.5 419.7 L289.8 419 L290.2 418.2 L290.5 417.5 L290.9 416.6 L291.2 415.8 L291.6 414.9 L291.9 414 L292.3 413.1 L292.6 412.1 L293 411.1 L293.3 410.1 L293.7 409.1 L294 408.1 L294.4 407.1 L294.7 406 L295.1 405 L295.4 403.9 L295.8 402.9 L296.1 401.8 L296.5 400.7 L296.8 399.7 L297.2 398.7 L297.5 397.6 L297.9 396.6 L298.2 395.6 L298.6 394.6 L299 393.7 L299.3 392.7 L299.7 391.8 L300 390.9 L300.4 390.1 L300.7 389.3 L301.1 388.5 L301.4 387.7 L301.8 387 L302.1 386.3 L302.5 385.7 L302.8 385.1 L303.2 384.5 L303.5 384 L303.9 383.6 L304.2 383.1 L304.6 382.8 L304.9 382.5 L305.3 382.2 L305.6 382 L306 381.8 L306.3 381.7 L306.7 381.6 L307 381.6 L307.4 381.6 L307.7 381.7 L308.1 381.8 L308.4 382 L308.8 382.2 L309.1 382.5 L309.5 382.8 L309.8 383.2 L310.2 383.6 L310.5 384.1 L310.9 384.6 L311.2 385.2 L311.6 385.8 L311.9 386.4 L312.3 387.1 L312.6 387.8 L313 388.6 L313.3 389.3 L313.7 390.2 L314 391 L314.4 391.9 L314.7 392.8 L315.1 393.7 L315.4 394.6 L315.8 395.6 L316.1 396.6 L316.5 397.6 L316.8 398.6 L317.2 399.6 L317.5 400.6 L317.9 401.6 L318.2 402.7 L318.6 403.7 L318.9 404.7 L319.3 405.7 L319.6 406.8 L320 407.8 L320.3 408.7 L320.7 409.7 L321 410.7 L321.4 411.6 L321.7 412.5 L322.1 413.4 L322.4 414.3 L322.8 415.1 L323.1 415.9 L323.5 416.7 L323.8 417.5 L324.2 418.2 L324.5 418.8 L324.9 419.5 L325.2 420.1 L325.6 420.6 L325.9 421.1 L326.3 421.6 L326.6 422 L327 422.4 L327.3 422.7 L327.7 423 L328 423.2 L328.4 423.4 L328.7 423.5 L329.1 423.6 L329.4 423.7 L329.8 423.6 L330.1 423.6 L330.5 423.5 L330.8 423.3 L331.2 423.1 L331.5 422.8 L331.9 422.5 L332.2 422.2 L332.6 421.8 L332.9 421.3 L333.3 420.9 L333.6 420.3 L334 419.8 L334.3 419.2 L334.7 418.5 L335 417.8 L335.4 417.1 L335.7 416.4 L336.1 415.6 L336.4 414.8 L336.8 413.9 L337.1 413.1 L337.5 412.2 L337.8 411.3 L338.2 410.3 L338.5 409.4 L338.9 408.4 L339.2 407.4 L339.6 406.5 L339.9 405.5 L340.3 404.5 L340.6 403.5 L341 402.5 L341.3 401.5 L341.7 400.5 L342 399.5 L342.4 398.5 L342.7 397.6 L343.1 396.6 L343.4 395.7 L343.8 394.8 L344.1 393.9 L344.5 393 L344.8 392.1 L345.2 391.3 L345.5 390.5 L345.9 389.8 L346.2 389 L346.6 388.3 L346.9 387.7 L347.3 387 L347.6 386.4 L348 385.9 L348.3 385.4 L348.7 384.9 L349 384.5 L349.4 384.1 L349.7 383.8 L350.1 383.5 L350.4 383.3 L350.8 383.1 L351.1 382.9 L351.5 382.8 L351.8 382.8 L352.2 382.8 L352.5 382.8 L352.9 382.9 L353.2 383.1 L353.6 383.3 L353.9 383.5 L354.3 383.8 L354.6 384.1 L355 384.5 L355.3 384.9 L355.7 385.3 L356 385.8 L356.4 386.4 L356.7 387 L357.1 387.6 L357.4 388.2 L357.8 388.9 L358.1 389.6 L358.5 390.4 L358.8 391.2 L359.2 392 L359.5 392.8 L359.9 393.7 L360.2 394.6 L360.6 395.5 L360.9 396.4 L361.3 397.3 L361.6 398.2 L362 399.2 L362.3 400.1 L362.7 401.1 L363 402.1 L363.4 403.1 L363.7 404 L364.1 405 L364.4 405.9 L364.8 406.9 L365.1 407.8 L365.5 408.8 L365.8 409.7 L366.2 410.6 L366.5 411.5 L366.9 412.3 L367.2 413.1 L367.6 414 L367.9 414.7 L368.3 415.5" fill="none" stroke="#0000FF" stroke-width="2.400" stroke-linejoin="round"/>
<rect x="264" y="343.4" width="99.6" height="20.4" fill="#fff" stroke="#0000FF" stroke-width="1.1"/>
<path d="M265.5 353.6 h33.500" stroke="#0000FF" stroke-width="1.900"/>
<text transform="translate(361 359) scale(1 1.08)" font-size="14.5" fill="#0000FF" font-weight="bold" text-anchor="end">σ= -0.019</text>
<text transform="translate(225.5 344.7) scale(1 1.15)" font-size="12.3" fill="#0000FF" font-weight="bold" text-anchor="end">0.2</text>
<text transform="translate(225.5 376.8) scale(1 1.15)" font-size="12.3" fill="#0000FF" font-weight="bold" text-anchor="end">0.1</text>
<text transform="translate(225.5 409) scale(1 1.15)" font-size="12.3" fill="#0000FF" font-weight="bold" text-anchor="end">0.0</text>
<text transform="translate(225.5 441.1) scale(1 1.15)" font-size="12.3" fill="#0000FF" font-weight="bold" text-anchor="end">-0.1</text>
<text transform="translate(228.2 464.5) scale(1 1.14)" font-size="12.5" fill="#0000FF" font-weight="bold" text-anchor="middle">0</text>
<text transform="translate(263.2 464.5) scale(1 1.14)" font-size="12.5" fill="#0000FF" font-weight="bold" text-anchor="middle">250</text>
<text transform="translate(298.2 464.5) scale(1 1.14)" font-size="12.5" fill="#0000FF" font-weight="bold" text-anchor="middle">500</text>
<text transform="translate(333.3 464.5) scale(1 1.14)" font-size="12.5" fill="#0000FF" font-weight="bold" text-anchor="middle">750</text>
<text transform="translate(368.3 464.5) scale(1 1.14)" font-size="12.5" fill="#0000FF" font-weight="bold" text-anchor="middle">1000</text>
<text x="315.1" y="474.3" font-size="15" fill="#0000FF" font-weight="bold" font-style="italic" text-anchor="middle">t</text>
<text x="201.5" y="391.5" font-size="18.5" fill="#0000FF" font-weight="bold" font-style="italic">q</text>
<rect x="488" y="178.6" width="180" height="294.9" rx="5" fill="#fff" stroke="#000" stroke-width="1.200" stroke-dasharray="4 2.200"/>
<text x="575" y="192.2" font-size="16" fill="#1AAA55" text-anchor="middle">σ=0.02</text>
<g stroke="#FF0000" stroke-width="2.3" fill="none"><path d="M514.6 199.7 H656.4" stroke-dasharray="11.1 11.15"/><path d="M514.6 309.7 H656.4 M515.7 310.8 V199.7 M655.2 310.8 V199.7" stroke-dasharray="11.1 11.15"/></g>
<path d="M515.7 227.2 L516 227.3 L516.4 227.4 L516.7 227.6 L517.1 227.9 L517.4 228.3 L517.8 228.7 L518.1 229.3 L518.5 229.8 L518.8 230.5 L519.2 231.3 L519.5 232.1 L519.9 232.9 L520.2 233.9 L520.6 234.9 L520.9 235.9 L521.3 237.1 L521.6 238.2 L522 239.5 L522.3 240.8 L522.7 242.1 L523 243.5 L523.4 244.9 L523.7 246.3 L524.1 247.8 L524.4 249.3 L524.8 250.9 L525.1 252.4 L525.5 254 L525.8 255.6 L526.2 257.2 L526.5 258.8 L526.9 260.5 L527.2 262.1 L527.6 263.7 L527.9 265.3 L528.3 267 L528.6 268.6 L529 270.1 L529.3 271.7 L529.7 273.3 L530 274.8 L530.3 276.3 L530.7 277.7 L531 279.1 L531.4 280.5 L531.7 281.8 L532.1 283.1 L532.4 284.3 L532.8 285.5 L533.1 286.7 L533.5 287.7 L533.8 288.7 L534.2 289.7 L534.5 290.6 L534.9 291.4 L535.2 292.2 L535.6 292.8 L535.9 293.5 L536.3 294 L536.6 294.5 L537 294.9 L537.3 295.2 L537.7 295.5 L538 295.6 L538.4 295.7 L538.7 295.7 L539.1 295.7 L539.4 295.6 L539.8 295.4 L540.1 295.1 L540.5 294.7 L540.8 294.3 L541.2 293.8 L541.5 293.2 L541.9 292.6 L542.2 291.9 L542.6 291.1 L542.9 290.3 L543.3 289.3 L543.6 288.4 L543.9 287.4 L544.3 286.3 L544.6 285.2 L545 284 L545.3 282.7 L545.7 281.5 L546 280.1 L546.4 278.8 L546.7 277.4 L547.1 276 L547.4 274.5 L547.8 273 L548.1 271.5 L548.5 270 L548.8 268.5 L549.2 266.9 L549.5 265.3 L549.9 263.8 L550.2 262.2 L550.6 260.6 L550.9 259.1 L551.3 257.5 L551.6 256 L552 254.5 L552.3 252.9 L552.7 251.5 L553 250 L553.4 248.6 L553.7 247.2 L554.1 245.8 L554.4 244.5 L554.8 243.2 L555.1 242 L555.5 240.8 L555.8 239.6 L556.2 238.5 L556.5 237.5 L556.9 236.5 L557.2 235.6 L557.6 234.8 L557.9 234 L558.2 233.2 L558.6 232.6 L558.9 232 L559.3 231.4 L559.6 231 L560 230.6 L560.3 230.3 L560.7 230 L561 229.9 L561.4 229.8 L561.7 229.8 L562.1 229.8 L562.4 229.9 L562.8 230.1 L563.1 230.4 L563.5 230.7 L563.8 231.1 L564.2 231.6 L564.5 232.2 L564.9 232.8 L565.2 233.5 L565.6 234.2 L565.9 235 L566.3 235.9 L566.6 236.8 L567 237.8 L567.3 238.8 L567.7 239.9 L568 241.1 L568.4 242.2 L568.7 243.5 L569.1 244.7 L569.4 246 L569.8 247.4 L570.1 248.7 L570.5 250.1 L570.8 251.6 L571.2 253 L571.5 254.5 L571.8 256 L572.2 257.5 L572.5 259 L572.9 260.5 L573.2 262 L573.6 263.5 L573.9 265 L574.3 266.5 L574.6 268 L575 269.5 L575.3 270.9 L575.7 272.3 L576 273.7 L576.4 275.1 L576.7 276.5 L577.1 277.8 L577.4 279.1 L577.8 280.3 L578.1 281.5 L578.5 282.6 L578.8 283.7 L579.2 284.8 L579.5 285.8 L579.9 286.7 L580.2 287.6 L580.6 288.4 L580.9 289.2 L581.3 289.9 L581.6 290.6 L582 291.1 L582.3 291.6 L582.7 292.1 L583 292.5 L583.4 292.8 L583.7 293 L584.1 293.2 L584.4 293.3 L584.8 293.3 L585.1 293.2 L585.5 293.1 L585.8 292.9 L586.1 292.7 L586.5 292.4 L586.8 292 L587.2 291.5 L587.5 291 L587.9 290.4 L588.2 289.7 L588.6 289 L588.9 288.3 L589.3 287.4 L589.6 286.5 L590 285.6 L590.3 284.6 L590.7 283.5 L591 282.4 L591.4 281.3 L591.7 280.1 L592.1 278.9 L592.4 277.7 L592.8 276.4 L593.1 275 L593.5 273.7 L593.8 272.3 L594.2 270.9 L594.5 269.5 L594.9 268.1 L595.2 266.7 L595.6 265.2 L595.9 263.8 L596.3 262.3 L596.6 260.8 L597 259.4 L597.3 258 L597.7 256.5 L598 255.1 L598.4 253.7 L598.7 252.3 L599.1 251 L599.4 249.7 L599.7 248.4 L600.1 247.1 L600.4 245.9 L600.8 244.7 L601.1 243.5 L601.5 242.4 L601.8 241.4 L602.2 240.3 L602.5 239.4 L602.9 238.5 L603.2 237.6 L603.6 236.8 L603.9 236.1 L604.3 235.4 L604.6 234.8 L605 234.2 L605.3 233.7 L605.7 233.3 L606 232.9 L606.4 232.6 L606.7 232.4 L607.1 232.2 L607.4 232.1 L607.8 232.1 L608.1 232.2 L608.5 232.3 L608.8 232.4 L609.2 232.7 L609.5 233 L609.9 233.4 L610.2 233.8 L610.6 234.3 L610.9 234.9 L611.3 235.5 L611.6 236.2 L612 236.9 L612.3 237.7 L612.7 238.6 L613 239.5 L613.4 240.5 L613.7 241.5 L614 242.5 L614.4 243.6 L614.7 244.7 L615.1 245.9 L615.4 247.1 L615.8 248.4 L616.1 249.6 L616.5 250.9 L616.8 252.3 L617.2 253.6 L617.5 255 L617.9 256.3 L618.2 257.7 L618.6 259.1 L618.9 260.5 L619.3 261.9 L619.6 263.3 L620 264.7 L620.3 266.1 L620.7 267.5 L621 268.8 L621.4 270.2 L621.7 271.5 L622.1 272.8 L622.4 274.1 L622.8 275.3 L623.1 276.6 L623.5 277.7 L623.8 278.9 L624.2 280 L624.5 281.1 L624.9 282.1 L625.2 283.1 L625.6 284 L625.9 284.9 L626.3 285.7 L626.6 286.5 L627 287.2 L627.3 287.8 L627.6 288.4 L628 289 L628.3 289.5 L628.7 289.9 L629 290.2 L629.4 290.5 L629.7 290.7 L630.1 290.9 L630.4 291 L630.8 291 L631.1 291 L631.5 290.9 L631.8 290.7 L632.2 290.5 L632.5 290.2 L632.9 289.8 L633.2 289.4 L633.6 288.9 L633.9 288.4 L634.3 287.8 L634.6 287.1 L635 286.4 L635.3 285.6 L635.7 284.8 L636 283.9 L636.4 283 L636.7 282 L637.1 281 L637.4 280 L637.8 278.9 L638.1 277.8 L638.5 276.6 L638.8 275.4 L639.2 274.2 L639.5 272.9 L639.9 271.7 L640.2 270.4 L640.6 269.1 L640.9 267.8 L641.2 266.4 L641.6 265.1 L641.9 263.7 L642.3 262.4 L642.6 261 L643 259.7 L643.3 258.4 L643.7 257 L644 255.7 L644.4 254.4 L644.7 253.1 L645.1 251.9 L645.4 250.6 L645.8 249.4 L646.1 248.3 L646.5 247.1 L646.8 246 L647.2 245 L647.5 243.9 L647.9 242.9 L648.2 242 L648.6 241.1 L648.9 240.3 L649.3 239.5 L649.6 238.7 L650 238 L650.3 237.4 L650.7 236.8 L651 236.3 L651.4 235.8 L651.7 235.4 L652.1 235.1 L652.4 234.8 L652.8 234.6 L653.1 234.4 L653.5 234.3 L653.8 234.3 L654.2 234.3 L654.5 234.4 L654.9 234.6 L655.2 234.8" fill="none" stroke="#FF0000" stroke-width="2.400" stroke-linejoin="round"/>
<rect x="551.3" y="204.6" width="86.4" height="19.9" fill="#fff" stroke="#FF0000" stroke-width="1.1"/>
<path d="M552.8 214.6 h33.500" stroke="#FF0000" stroke-width="1.900"/>
<text transform="translate(635.1 220) scale(1 1.08)" font-size="14.5" fill="#FF0000" font-weight="bold" text-anchor="end">σ= 0.02</text>
<text transform="translate(513 204.8) scale(1 1.15)" font-size="12.3" fill="#FF0000" font-weight="bold" text-anchor="end">0.2</text>
<text transform="translate(513 232.3) scale(1 1.15)" font-size="12.3" fill="#FF0000" font-weight="bold" text-anchor="end">0.1</text>
<text transform="translate(513 259.8) scale(1 1.15)" font-size="12.3" fill="#FF0000" font-weight="bold" text-anchor="end">0.0</text>
<text transform="translate(513 287.3) scale(1 1.15)" font-size="12.3" fill="#FF0000" font-weight="bold" text-anchor="end">-0.1</text>
<text transform="translate(513 314.8) scale(1 1.15)" font-size="12.3" fill="#FF0000" font-weight="bold" text-anchor="end">-0.2</text>
<text transform="translate(515.7 322.9) scale(1 1.14)" font-size="12.5" fill="#FF0000" font-weight="bold" text-anchor="middle">0</text>
<text transform="translate(550.6 322.9) scale(1 1.14)" font-size="12.5" fill="#FF0000" font-weight="bold" text-anchor="middle">250</text>
<text transform="translate(585.5 322.9) scale(1 1.14)" font-size="12.5" fill="#FF0000" font-weight="bold" text-anchor="middle">500</text>
<text transform="translate(620.3 322.9) scale(1 1.14)" font-size="12.5" fill="#FF0000" font-weight="bold" text-anchor="middle">750</text>
<text transform="translate(655.2 322.9) scale(1 1.14)" font-size="12.5" fill="#FF0000" font-weight="bold" text-anchor="middle">1000</text>
<text x="602.2" y="332.7" font-size="15" fill="#FF0000" font-weight="bold" font-style="italic" text-anchor="middle">t</text>
<text x="488" y="271.5" font-size="18.5" fill="#FF0000" font-weight="bold" font-style="italic">p</text>
<g stroke="#0000FF" stroke-width="2.3" fill="none"><path d="M515.4 340.4 H658.4" stroke-dasharray="11.1 11.15"/><path d="M515.4 452.1 H658.4 M516.5 453.2 V340.4 M657.3 453.2 V340.4" stroke-dasharray="11.1 11.15"/></g>
<path d="M516.5 404 L516.9 402.1 L517.2 400.2 L517.6 398.3 L517.9 396.5 L518.3 394.6 L518.6 392.8 L519 391 L519.3 389.2 L519.7 387.4 L520 385.7 L520.4 384.1 L520.7 382.5 L521.1 380.9 L521.4 379.4 L521.8 378 L522.1 376.6 L522.5 375.3 L522.8 374 L523.2 372.8 L523.5 371.7 L523.9 370.7 L524.2 369.7 L524.6 368.8 L524.9 368 L525.3 367.3 L525.7 366.6 L526 366.1 L526.4 365.6 L526.7 365.2 L527.1 365 L527.4 364.8 L527.8 364.6 L528.1 364.6 L528.5 364.7 L528.8 364.8 L529.2 365.1 L529.5 365.4 L529.9 365.8 L530.2 366.3 L530.6 366.9 L530.9 367.6 L531.3 368.4 L531.6 369.2 L532 370.1 L532.3 371.1 L532.7 372.1 L533 373.3 L533.4 374.5 L533.7 375.7 L534.1 377.1 L534.5 378.5 L534.8 379.9 L535.2 381.4 L535.5 382.9 L535.9 384.5 L536.2 386.2 L536.6 387.8 L536.9 389.5 L537.3 391.3 L537.6 393.1 L538 394.8 L538.3 396.6 L538.7 398.5 L539 400.3 L539.4 402.1 L539.7 404 L540.1 405.8 L540.4 407.7 L540.8 409.5 L541.1 411.3 L541.5 413.1 L541.8 414.8 L542.2 416.6 L542.5 418.3 L542.9 420 L543.3 421.6 L543.6 423.2 L544 424.8 L544.3 426.3 L544.7 427.7 L545 429.1 L545.4 430.4 L545.7 431.7 L546.1 432.9 L546.4 434.1 L546.8 435.1 L547.1 436.2 L547.5 437.1 L547.8 437.9 L548.2 438.7 L548.5 439.4 L548.9 440 L549.2 440.6 L549.6 441 L549.9 441.4 L550.3 441.7 L550.6 441.9 L551 442 L551.3 442 L551.7 441.9 L552.1 441.8 L552.4 441.6 L552.8 441.2 L553.1 440.8 L553.5 440.4 L553.8 439.8 L554.2 439.2 L554.5 438.4 L554.9 437.6 L555.2 436.8 L555.6 435.8 L555.9 434.8 L556.3 433.7 L556.6 432.6 L557 431.3 L557.3 430.1 L557.7 428.7 L558 427.3 L558.4 425.9 L558.7 424.4 L559.1 422.9 L559.4 421.3 L559.8 419.7 L560.1 418.1 L560.5 416.4 L560.9 414.7 L561.2 413 L561.6 411.2 L561.9 409.5 L562.3 407.7 L562.6 405.9 L563 404.2 L563.3 402.4 L563.7 400.6 L564 398.9 L564.4 397.1 L564.7 395.4 L565.1 393.7 L565.4 392 L565.8 390.4 L566.1 388.8 L566.5 387.2 L566.8 385.7 L567.2 384.2 L567.5 382.7 L567.9 381.3 L568.2 380 L568.6 378.7 L568.9 377.4 L569.3 376.3 L569.7 375.2 L570 374.1 L570.4 373.2 L570.7 372.3 L571.1 371.4 L571.4 370.7 L571.8 370 L572.1 369.4 L572.5 368.9 L572.8 368.5 L573.2 368.1 L573.5 367.8 L573.9 367.6 L574.2 367.5 L574.6 367.5 L574.9 367.6 L575.3 367.7 L575.6 367.9 L576 368.2 L576.3 368.6 L576.7 369.1 L577 369.6 L577.4 370.2 L577.7 370.9 L578.1 371.7 L578.5 372.5 L578.8 373.4 L579.2 374.4 L579.5 375.5 L579.9 376.6 L580.2 377.7 L580.6 379 L580.9 380.2 L581.3 381.6 L581.6 383 L582 384.4 L582.3 385.9 L582.7 387.4 L583 388.9 L583.4 390.5 L583.7 392.1 L584.1 393.7 L584.4 395.4 L584.8 397.1 L585.1 398.8 L585.5 400.5 L585.8 402.2 L586.2 403.9 L586.5 405.6 L586.9 407.3 L587.3 409 L587.6 410.6 L588 412.3 L588.3 413.9 L588.7 415.6 L589 417.1 L589.4 418.7 L589.7 420.2 L590.1 421.7 L590.4 423.1 L590.8 424.5 L591.1 425.9 L591.5 427.2 L591.8 428.4 L592.2 429.6 L592.5 430.7 L592.9 431.8 L593.2 432.8 L593.6 433.7 L593.9 434.6 L594.3 435.4 L594.6 436.1 L595 436.8 L595.3 437.4 L595.7 437.9 L596.1 438.3 L596.4 438.6 L596.8 438.9 L597.1 439.1 L597.5 439.2 L597.8 439.2 L598.2 439.2 L598.5 439 L598.9 438.8 L599.2 438.6 L599.6 438.2 L599.9 437.7 L600.3 437.2 L600.6 436.6 L601 436 L601.3 435.2 L601.7 434.4 L602 433.6 L602.4 432.6 L602.7 431.6 L603.1 430.5 L603.4 429.4 L603.8 428.2 L604.1 427 L604.5 425.7 L604.9 424.4 L605.2 423 L605.6 421.6 L605.9 420.1 L606.3 418.7 L606.6 417.1 L607 415.6 L607.3 414 L607.7 412.4 L608 410.8 L608.4 409.2 L608.7 407.6 L609.1 405.9 L609.4 404.3 L609.8 402.6 L610.1 401 L610.5 399.4 L610.8 397.8 L611.2 396.2 L611.5 394.6 L611.9 393 L612.2 391.5 L612.6 390 L612.9 388.5 L613.3 387.1 L613.7 385.7 L614 384.4 L614.4 383.1 L614.7 381.8 L615.1 380.6 L615.4 379.5 L615.8 378.4 L616.1 377.4 L616.5 376.4 L616.8 375.5 L617.2 374.6 L617.5 373.9 L617.9 373.2 L618.2 372.5 L618.6 372 L618.9 371.5 L619.3 371.1 L619.6 370.8 L620 370.5 L620.3 370.3 L620.7 370.2 L621 370.2 L621.4 370.2 L621.7 370.3 L622.1 370.5 L622.5 370.8 L622.8 371.2 L623.2 371.6 L623.5 372.1 L623.9 372.6 L624.2 373.3 L624.6 374 L624.9 374.8 L625.3 375.6 L625.6 376.5 L626 377.5 L626.3 378.5 L626.7 379.6 L627 380.7 L627.4 381.9 L627.7 383.1 L628.1 384.4 L628.4 385.7 L628.8 387.1 L629.1 388.5 L629.5 389.9 L629.8 391.4 L630.2 392.9 L630.5 394.4 L630.9 395.9 L631.3 397.5 L631.6 399 L632 400.6 L632.3 402.2 L632.7 403.8 L633 405.4 L633.4 406.9 L633.7 408.5 L634.1 410 L634.4 411.6 L634.8 413.1 L635.1 414.6 L635.5 416.1 L635.8 417.5 L636.2 418.9 L636.5 420.3 L636.9 421.7 L637.2 422.9 L637.6 424.2 L637.9 425.4 L638.3 426.6 L638.6 427.7 L639 428.7 L639.3 429.7 L639.7 430.6 L640.1 431.5 L640.4 432.3 L640.8 433.1 L641.1 433.7 L641.5 434.4 L641.8 434.9 L642.2 435.4 L642.5 435.8 L642.9 436.1 L643.2 436.3 L643.6 436.5 L643.9 436.6 L644.3 436.7 L644.6 436.6 L645 436.5 L645.3 436.3 L645.7 436 L646 435.7 L646.4 435.3 L646.7 434.8 L647.1 434.3 L647.4 433.7 L647.8 433 L648.1 432.3 L648.5 431.5 L648.9 430.6 L649.2 429.7 L649.6 428.7 L649.9 427.6 L650.3 426.5 L650.6 425.4 L651 424.2 L651.3 423 L651.7 421.7 L652 420.4 L652.4 419.1 L652.7 417.7 L653.1 416.3 L653.4 414.8 L653.8 413.4 L654.1 411.9 L654.5 410.4 L654.8 408.9 L655.2 407.4 L655.5 405.9 L655.9 404.4 L656.2 402.8 L656.6 401.3 L656.9 399.8 L657.3 398.3" fill="none" stroke="#0000FF" stroke-width="2.400" stroke-linejoin="round"/>
<rect x="552.7" y="344.8" width="86.5" height="19.9" fill="#fff" stroke="#0000FF" stroke-width="1.1"/>
<path d="M554.2 354.8 h33.500" stroke="#0000FF" stroke-width="1.900"/>
<text transform="translate(636.6 360.1) scale(1 1.08)" font-size="14.5" fill="#0000FF" font-weight="bold" text-anchor="end">σ= 0.02</text>
<text transform="translate(513.8 345.5) scale(1 1.15)" font-size="12.3" fill="#0000FF" font-weight="bold" text-anchor="end">0.2</text>
<text transform="translate(513.8 377.6) scale(1 1.15)" font-size="12.3" fill="#0000FF" font-weight="bold" text-anchor="end">0.1</text>
<text transform="translate(513.8 409.8) scale(1 1.15)" font-size="12.3" fill="#0000FF" font-weight="bold" text-anchor="end">0.0</text>
<text transform="translate(513.8 441.9) scale(1 1.15)" font-size="12.3" fill="#0000FF" font-weight="bold" text-anchor="end">-0.1</text>
<text transform="translate(516.5 465.3) scale(1 1.14)" font-size="12.5" fill="#0000FF" font-weight="bold" text-anchor="middle">0</text>
<text transform="translate(551.7 465.3) scale(1 1.14)" font-size="12.5" fill="#0000FF" font-weight="bold" text-anchor="middle">250</text>
<text transform="translate(586.9 465.3) scale(1 1.14)" font-size="12.5" fill="#0000FF" font-weight="bold" text-anchor="middle">500</text>
<text transform="translate(622.1 465.3) scale(1 1.14)" font-size="12.5" fill="#0000FF" font-weight="bold" text-anchor="middle">750</text>
<text transform="translate(657.3 465.3) scale(1 1.14)" font-size="12.5" fill="#0000FF" font-weight="bold" text-anchor="middle">1000</text>
<text x="603.8" y="475.1" font-size="15" fill="#0000FF" font-weight="bold" font-style="italic" text-anchor="middle">t</text>
<text x="490" y="393.5" font-size="18.5" fill="#0000FF" font-weight="bold" font-style="italic">q</text>
<path d="M379.300 151 V182" stroke="#000" stroke-width="4.900"/>
<path d="M373.600 180 H385.100 L379.300 191.600 Z" fill="#000"/>
<path d="M430 194.2 h0 M436.4 194.2 h0 M442.8 194.2 h0" stroke="#00B050" stroke-width="3.600" stroke-linecap="round"/>
<path d="M430 276.8 h0 M436.4 276.8 h0 M442.8 276.8 h0" stroke="#FF0000" stroke-width="3.600" stroke-linecap="round"/>
<path d="M427.5 418.5 h0 M433.9 418.5 h0 M440.3 418.5 h0" stroke="#0070C0" stroke-width="3.600" stroke-linecap="round"/>
<text x="8" y="499.3" font-size="16">(d)</text>
<rect x="1.200" y="509.500" width="424.800" height="209.500" rx="6" fill="#EFEBF3" stroke="#B7A5D6" stroke-width="1.600" stroke-dasharray="9.300 4.500"/>
<path d="M93.600 476.500 V503" stroke="#7F6000" stroke-width="5.500"/>
<path d="M86.900 501.300 H99.600 L93.250 512.800 Z" fill="#7F6000"/>
<text x="98.7" y="500.8" font-size="15.7">nonlinear function library</text>
<path d="M12.2 535.7 H6.7 V712.3 H12.2" fill="none" stroke="#000" stroke-width="1.3"/>
<path d="M46.2 535.7 H51.7 V712.3 H46.2" fill="none" stroke="#000" stroke-width="1.3"/>
<rect x="14" y="536.7" width="11" height="175.6" rx="2" fill="#FF0000"/>
<rect x="35" y="536.7" width="10.5" height="175.6" rx="2" fill="#4472C4"/>
<path d="M57.300 614.800 H68.300 M57.300 619.600 H68.300" stroke="#000" stroke-width="1.900"/>
<path d="M79.5 535.7 H74 V712.3 H79.5" fill="none" stroke="#000" stroke-width="1.3"/>
<path d="M279.5 535.7 H285 V712.3 H279.5" fill="none" stroke="#000" stroke-width="1.3"/>
<rect x="81.3" y="536.7" width="11" height="175.6" rx="2" fill="#FFC000"/>
<rect x="100" y="536.7" width="10.7" height="175.6" rx="2" fill="#C00000"/>
<rect x="118.7" y="536.7" width="10.6" height="175.6" rx="2" fill="#2F5597"/>
<rect x="137.3" y="536.7" width="10.5" height="175.6" rx="2" fill="#D0CECE"/>
<rect x="155.8" y="536.7" width="10.9" height="175.6" rx="2" fill="#D0CECE"/>
<rect x="174" y="536.7" width="10.5" height="175.6" rx="2" fill="#D0CECE"/>
<rect x="204" y="536.7" width="10.4" height="175.6" rx="2" fill="#7030A0"/>
<rect x="224.3" y="536.7" width="10.7" height="175.6" rx="2" fill="#D0CECE"/>
<rect x="245.7" y="536.7" width="11" height="175.6" rx="2" fill="#D0CECE"/>
<rect x="266.7" y="536.7" width="11" height="175.6" rx="2" fill="#D0CECE"/>
<path d="M190 616.700 h0 M194 616.700 h0 M198 616.700 h0" stroke="#000" stroke-width="2" stroke-linecap="round"/>
<text x="13.3" y="529.3" font-size="19" font-style="italic">p</text>
<circle cx="19.700" cy="513.600" r="1.100" fill="#000"/>
<text x="36" y="529.3" font-size="19" font-style="italic">q</text>
<circle cx="41" cy="513.600" r="1.100" fill="#000"/>
<text x="87.2" y="530.3" font-size="16.3" text-anchor="middle">1</text>
<text x="103" y="529.2" font-size="18" font-style="italic">p</text>
<text x="120.8" y="529.2" font-size="18" font-style="italic">q</text>
<text x="139" y="529.2" font-size="18" font-style="italic">σ</text>
<text x="153" y="529.2" font-size="18" font-style="italic">p<tspan font-size="11.500" dy="-5.500" font-style="normal">2</tspan><tspan dy="5.500" font-size="18">&#8203;</tspan></text>
<text x="170.5" y="529.2" font-size="18" font-style="italic">pq</text>
<text x="205" y="529.2" font-size="18" font-style="italic">q<tspan font-size="11.500" dy="-5.500" font-style="normal">3</tspan><tspan dy="5.500" font-size="18">&#8203;</tspan>q<tspan font-size="11.500" dy="-5.500" font-style="normal">2</tspan><tspan dy="5.500" font-size="18">&#8203;</tspan>σ</text>
<text x="246.4" y="529.2" font-size="18" font-style="italic">qσ<tspan font-size="11.500" dy="-5.500" font-style="normal">2</tspan><tspan dy="5.500" font-size="18">&#8203;</tspan>σ<tspan font-size="11.500" dy="-5.500" font-style="normal">3</tspan><tspan dy="5.500" font-size="18">&#8203;</tspan></text>
<text x="309.3" y="530.5" font-size="18" font-weight="bold" font-style="italic">ξ<tspan font-size="11" dy="3" font-style="normal" font-weight="normal">1</tspan></text>
<text x="330.3" y="530.5" font-size="18" font-weight="bold" font-style="italic">ξ<tspan font-size="11" dy="3" font-style="normal" font-weight="normal">2</tspan></text>
<path d="M305 536 H300 V612 H305" fill="none" stroke="#000" stroke-width="1.3"/>
<path d="M345.3 536 H350.3 V612 H345.3" fill="none" stroke="#000" stroke-width="1.3"/>
<rect x="308" y="536" width="11.8" height="76.8" rx="2" fill="#D0CECE"/>
<rect x="329.6" y="536" width="11.4" height="76.8" rx="2" fill="#D0CECE"/>
<circle cx="314" cy="547.4" r="6.200" fill="#FF0000"/>
<circle cx="314" cy="580" r="6.200" fill="#FF0000"/>
<circle cx="314" cy="592.8" r="6.200" fill="#FF0000"/>
<circle cx="314" cy="606" r="6.200" fill="#FF0000"/>
<circle cx="335.300" cy="542.8" r="6.200" fill="#4472C4"/>
<circle cx="335.300" cy="556" r="6.200" fill="#4472C4"/>
<circle cx="335.300" cy="571" r="6.200" fill="#4472C4"/>
<circle cx="335.300" cy="586.5" r="6.200" fill="#4472C4"/>
<circle cx="335.300" cy="600.2" r="6.200" fill="#4472C4"/>
<path d="M328.800 608 V616" stroke="#5F497A" stroke-width="5.800"/>
<path d="M322 614.300 H335.400 L328.700 626.600 Z" fill="#5F497A"/>
<path d="M304 622.300 q-2.300 0.300 -2.300 3 v18 q0 2.500 -1.300 3.200 q1.300 0.700 1.300 3.200 v18.500 q0 2.700 2.300 3" fill="none" stroke="#555" stroke-width="0.700"/>
<text x="305.3" y="643.6" font-size="20" font-style="italic" textLength="91.500">p=G(p,q,σ)</text>
<circle cx="310.300" cy="631.400" r="1.200" fill="#000"/>
<text x="303.3" y="666.1" font-size="20" font-style="italic" textLength="93.500">q=H(p,q,σ)</text>
<circle cx="308.300" cy="653.200" r="1.200" fill="#000"/>
<text x="350.8" y="679.2" font-size="15.7" text-anchor="middle">i.e., identified slow</text>
<text x="351" y="698" font-size="15.7" text-anchor="middle">model(by SINDy)</text>
<text x="350.6" y="717" font-size="15.7" text-anchor="middle">in Table 1</text>
<text x="447.3" y="500.5" font-size="15.6">(e) Frequency Response Curve:FRC</text>
<rect x="436.400" y="508.500" width="246.500" height="204.200" rx="5" fill="#F7F7F7" stroke="#7F7F7F" stroke-width="1.300" stroke-dasharray="10.800 4.500"/>
<text x="353.9" y="573.7" font-size="14.5" font-weight="bold" textLength="31.700">a(t)=</text>
<path d="M386.300 570 l1.400 -0.900 l2.200 7 l2.600 -15.700 H461.200" fill="none" stroke="#000" stroke-width="0.800"/>
<text x="392.4" y="573.7" font-size="13.5" font-weight="bold">p(t)<tspan font-size="12.500" dy="-3.700">2</tspan><tspan dy="3.700" dx="2.400">+</tspan><tspan dx="1.600">q(t)</tspan><tspan font-size="12.500" dy="-3.700">2</tspan></text>
<path d="M421.800 670.200 H451" stroke="#FF0000" stroke-width="4"/>
<path d="M450 663.800 L462.300 670.200 L450 676.600 Z" fill="#FF0000"/>
<clipPath id="cp"><rect x="467.4" y="517.7" width="204.20000000000005" height="163.29999999999995"/></clipPath>
<g clip-path="url(#cp)" fill="none" stroke="#000" stroke-width="2.400">
<path d="M442 674.5 L451.9 673.9 L460.4 673.4 L467.7 672.8 L474.1 672.3 L479.8 671.7 L484.9 671.2 L489.4 670.6 L493.5 670.1 L497.1 669.6 L500.5 669 L503.6 668.5 L506.4 667.9 L509 667.4 L511.4 666.8 L513.7 666.3 L515.7 665.7 L517.7 665.2 L519.5 664.6 L521.2 664.1 L522.8 663.5 L524.4 663 L525.8 662.5 L527.1 661.9 L528.4 661.4 L529.7 660.8 L530.8 660.3 L531.9 659.7 L533 659.2 L534 658.6 L535 658.1 L535.9 657.5 L536.8 657 L537.7 656.4 L538.6 655.9 L539.4 655.4 L540.1 654.8 L540.9 654.3 L541.6 653.7 L542.3 653.2 L543 652.6 L543.7 652.1 L544.3 651.5 L545 651 L545.6 650.4 L546.2 649.9 L546.8 649.3 L547.3 648.8 L547.9 648.3 L548.4 647.7 L549 647.2 L549.5 646.6 L550 646.1 L550.5 645.5 L551 645 L551.5 644.4 L552 643.9 L552.5 643.3 L552.9 642.8 L553.4 642.2 L553.8 641.7 L554.3 641.2 L554.7 640.6 L555.2 640.1 L555.6 639.5 L556 639 L556.4 638.4 L556.8 637.9 L557.3 637.3 L557.7 636.8 L558.1 636.2 L558.5 635.7 L558.9 635.1 L559.3 634.6 L559.7 634.1 L560 633.5 L560.4 633 L560.8 632.4 L561.2 631.9 L561.6 631.3 L562 630.8 L562.3 630.2 L562.7 629.7 L563.1 629.1 L563.5 628.6 L563.8 628 L564.2 627.5 L564.6 627 L564.9 626.4 L565.3 625.9 L565.7 625.3 L566 624.8 L566.4 624.2 L566.8 623.7 L567.1 623.1 L567.5 622.6 L567.8 622 L568.2 621.5 L568.6 620.9 L568.9 620.4 L569.3 619.9 L569.6 619.3 L570 618.8 L570.4 618.2 L570.7 617.7 L571.1 617.1 L571.5 616.6 L571.8 616 L572.2 615.5 L572.5 614.9 L572.9 614.4 L573.3 613.8 L573.6 613.3 L574 612.8 L574.4 612.2 L574.7 611.7 L575.1 611.1 L575.5 610.6 L575.8 610 L576.2 609.5 L576.6 608.9 L576.9 608.4 L577.3 607.8 L577.7 607.3 L578.1 606.7 L578.4 606.2 L578.8 605.7 L579.2 605.1 L579.6 604.6 L579.9 604 L580.3 603.5 L580.7 602.9 L581.1 602.4 L581.5 601.8 L581.9 601.3 L582.2 600.7 L582.6 600.2 L583 599.6 L583.4 599.1 L583.8 598.6 L584.2 598 L584.6 597.5 L585 596.9 L585.4 596.4 L585.8 595.8 L586.2 595.3 L586.6 594.7 L587 594.2 L587.4 593.6 L587.8 593.1 L588.2 592.5 L588.6 592 L589 591.5 L589.4 590.9 L589.8 590.4 L590.2 589.8 L590.6 589.3 L591 588.7 L591.4 588.2 L591.9 587.6 L592.3 587.1 L592.7 586.5 L593.1 586 L593.5 585.4 L594 584.9 L594.4 584.4 L594.8 583.8 L595.3 583.3 L595.7 582.7 L596.1 582.2 L596.6 581.6 L597 581.1 L597.4 580.5 L597.9 580 L598.3 579.4 L598.8 578.9 L599.2 578.3 L599.7 577.8 L600.1 577.3 L600.5 576.7 L601 576.2 L601.5 575.6 L601.9 575.1 L602.4 574.5 L602.8 574 L603.3 573.4 L603.7 572.9 L604.2 572.3 L604.7 571.8 L605.1 571.2 L605.6 570.7 L606.1 570.2 L606.6 569.6 L607 569.1 L607.5 568.5 L608 568 L608.5 567.4 L608.9 566.9 L609.4 566.3 L609.9 565.8 L610.4 565.2 L610.9 564.7 L611.4 564.1 L611.9 563.6 L612.4 563.1 L612.9 562.5 L613.4 562 L613.9 561.4 L614.4 560.9 L614.9 560.3 L615.4 559.8 L615.9 559.2 L616.4 558.7 L616.9 558.1 L617.4 557.6 L617.9 557 L618.4 556.5 L619 556 L619.5 555.4 L620 554.9 L620.5 554.3 L621.1 553.8 L621.6 553.2 L622.1 552.7 L622.6 552.1 L623.2 551.6 L623.7 551 L624.2 550.5 L624.8 549.9 L625.3 549.4 L625.9 548.9 L626.4 548.3 L627 547.8 L627.5 547.2 L628.1 546.7 L628.6 546.1 L629.2 545.6 L629.7 545 L630.3 544.5 L630.8 543.9 L631.4 543.4 L632 542.8 L632.5 542.3 L633.1 541.8 L633.7 541.2 L634.3 540.7 L634.8 540.1 L635.4 539.6 L636 539 L636.6 538.5 L637.1 537.9 L637.7 537.4 L638.3 536.8 L638.9 536.3 L639.5 535.7 L640.1 535.2 L640.7 534.7 L641.3 534.1 L641.9 533.6 L642.5 533 L643.1 532.5 L643.7 531.9 L644.3 531.4 L644.9 530.8 L645.5 530.3 L646.1 529.7 L646.7 529.2 L647.3 528.6 L648 528.1 L648.6 527.6 L649.2 527 L649.8 526.5 L650.5 525.9 L651.1 525.4 L651.7 524.8 L652.3 524.3 L653 523.7 L653.6 523.2 L654.3 522.6 L654.9 522.1 L655.5 521.5 L656.2 521 L656.8 520.5 L657.5 519.9 L658.1 519.4 L658.8 518.8 L659.4 518.3 L660.1 517.7 L660.7 517.2 L661.4 516.6 L662.1 516.1 L662.7 515.5 L663.4 515 L664.1 514.4 L664.7 513.9 L665.4 513.4 L666.1 512.8 L666.8 512.3 L667.4 511.7 L668.1 511.2"/>
<path d="M697.3 674.5 L690.8 674.1 L685 673.8 L679.7 673.4 L674.8 673.1 L670.4 672.7 L666.4 672.4 L662.6 672 L659.2 671.7 L656 671.3 L653 671 L650.2 670.6 L647.6 670.3 L645.2 669.9 L642.9 669.6 L640.8 669.2 L638.8 668.9 L636.9 668.5 L635.1 668.2 L633.4 667.8 L631.8 667.5 L630.3 667.1 L628.8 666.8 L627.5 666.4 L626.2 666.1 L624.9 665.7 L623.7 665.4 L622.6 665 L621.5 664.7 L620.5 664.3 L619.5 664 L618.6 663.6 L617.7 663.3 L616.8 662.9 L616 662.6 L615.2 662.2 L614.4 661.9 L613.7 661.5 L613 661.2 L612.3 660.8 L611.6 660.5 L611 660.1 L610.4 659.8 L609.8 659.4 L609.3 659.1 L608.7 658.7 L608.2 658.4 L607.7 658 L607.2 657.7 L606.7 657.3 L606.3 657 L605.8 656.6 L605.4 656.3 L605 655.9 L604.6 655.6 L604.2 655.2 L603.9 654.9 L603.5 654.5 L603.2 654.2 L602.8 653.8 L602.5 653.5 L602.2 653.1 L601.9 652.8 L601.6 652.4 L601.3 652.1 L601.1 651.7 L600.8 651.4 L600.6 651 L600.3 650.7 L600.1 650.3 L599.8 650 L599.6 649.6 L599.4 649.3 L599.2 648.9 L599 648.6 L598.8 648.2 L598.6 647.9 L598.4 647.5 L598.3 647.2 L598.1 646.8 L597.9 646.5 L597.8 646.2 L597.6 645.8 L597.5 645.5 L597.3 645.1 L597.2 644.8 L597.1 644.4 L597 644.1 L596.8 643.7 L596.7 643.4 L596.6 643 L596.5 642.7 L596.4 642.3 L596.3 642 L596.2 641.6 L596.1 641.3 L596.1 640.9 L596 640.6 L595.9 640.2 L595.8 639.9 L595.8 639.5 L595.7 639.2 L595.6 638.8 L595.6 638.5 L595.5 638.1 L595.5 637.8 L595.4 637.4 L595.4 637.1 L595.4 636.7 L595.3 636.4 L595.3 636 L595.3 635.7 L595.2 635.3 L595.2 635 L595.2 634.6 L595.2 634.3 L595.2 633.9 L595.2 633.6 L595.1 633.2 L595.1 632.9"/>
<path d="M596.4 620.5 L596.6 619.5 L596.9 618.4 L597.1 617.4 L597.4 616.3 L597.7 615.3 L598 614.2 L598.3 613.2 L598.6 612.1 L599 611.1 L599.3 610 L599.7 609 M604.6 597.3 L605.1 596.3 L605.6 595.4 L606 594.4 L606.5 593.4 L607 592.5 L607.5 591.5 L608.1 590.6 L608.6 589.6 L609.1 588.7 L609.7 587.7 L610.2 586.8 M617.1 575.9 L617.7 575 L618.3 574.2 L618.9 573.3 L619.5 572.4 L620.1 571.5 L620.8 570.7 L621.4 569.8 L622 568.9 L622.7 568 L623.3 567.2 L624 566.3 M632.1 556.1 L632.8 555.4 L633.5 554.6 L634.1 553.8 L634.8 553 L635.5 552.2 L636.2 551.5 L636.9 550.7 L637.6 549.9 L638.3 549.1 L639 548.3 L639.7 547.6 M649.3 537.5 L650 536.7 L650.7 536 L651.4 535.3 L652.1 534.6 L652.9 533.9 L653.6 533.1 L654.3 532.4 L655.1 531.7 L655.8 531 L656.6 530.3 L657.3 529.6 M666.3 521.3 L667.3 520.4 L668.3 519.5 L669.4 518.5 L670.4 517.6 L671.5 516.7 L672.5 515.8 L673.6 514.8 L674.7 513.9 L675.8 513 L676.8 512.1 L677.9 511.2 " stroke-width="2.300"/>
</g>
<rect x="467.4" y="517.7" width="204.2" height="163.3" fill="none" stroke="#000" stroke-width="1.900"/>
<path d="M492.9 681 v-2.5 M492.9 517.7 v2.5 M518.5 681 v-3.3 M518.5 517.7 v3.3 M544 681 v-2.5 M544 517.7 v2.5 M569.5 681 v-3.3 M569.5 517.7 v3.3 M595 681 v-2.5 M595 517.7 v2.5 M620.5 681 v-3.3 M620.5 517.7 v3.3 M646.1 681 v-2.5 M646.1 517.7 v2.5 M467.4 664.7 h1.8 M671.6 664.7 h-1.8 M467.4 648.3 h3.5 M671.6 648.3 h-3.5 M467.4 632 h1.8 M671.6 632 h-1.8 M467.4 615.7 h3.5 M671.6 615.7 h-3.5 M467.4 599.4 h1.8 M671.6 599.4 h-1.8 M467.4 583 h3.5 M671.6 583 h-3.5 M467.4 566.7 h1.8 M671.6 566.7 h-1.8 M467.4 550.4 h3.5 M671.6 550.4 h-3.5 M467.4 534 h1.8 M671.6 534 h-1.8 " stroke="#000" stroke-width="1.300"/>
<text transform="translate(464.1 685.8) scale(1 1.12)" font-size="13.9" font-weight="bold" text-anchor="end">0.0</text>
<text transform="translate(464.1 653.1) scale(1 1.12)" font-size="13.9" font-weight="bold" text-anchor="end">0.1</text>
<text transform="translate(464.1 620.5) scale(1 1.12)" font-size="13.9" font-weight="bold" text-anchor="end">0.2</text>
<text transform="translate(464.1 587.8) scale(1 1.12)" font-size="13.9" font-weight="bold" text-anchor="end">0.3</text>
<text transform="translate(464.1 555.2) scale(1 1.12)" font-size="13.9" font-weight="bold" text-anchor="end">0.4</text>
<text transform="translate(464.1 522.5) scale(1 1.12)" font-size="13.9" font-weight="bold" text-anchor="end">0.5</text>
<text transform="translate(467.1 695.6) scale(1 1.12)" font-size="13.9" font-weight="bold" text-anchor="middle">-0.02</text>
<text transform="translate(518.2 695.6) scale(1 1.12)" font-size="13.9" font-weight="bold" text-anchor="middle">-0.01</text>
<text transform="translate(570.1 695.6) scale(1 1.12)" font-size="13.9" font-weight="bold" text-anchor="middle">0.00</text>
<text transform="translate(621.1 695.6) scale(1 1.12)" font-size="13.9" font-weight="bold" text-anchor="middle">0.01</text>
<text transform="translate(672.2 695.6) scale(1 1.12)" font-size="13.9" font-weight="bold" text-anchor="middle">0.02</text>
<text x="575" y="708.8" font-size="17.5" font-weight="bold" font-style="italic" text-anchor="middle" font-family="Liberation Sans, Arial, sans-serif">σ</text>
<text x="437.8" y="601.3" font-size="17.5" font-weight="bold" font-style="italic">a</text>
<rect x="473.800" y="524.400" width="134.400" height="34.500" fill="#F7F7F7" stroke="#000" stroke-width="1.700"/>
<path d="M475 533 H507" stroke="#000" stroke-width="2.300"/>
<circle cx="491.600" cy="550.200" r="3.400" fill="none" stroke="#FF0000" stroke-width="1.700"/>
<text x="511" y="537.6" font-size="13.8" font-weight="bold">identified model</text>
<text x="511" y="554.7" font-size="13.8" font-weight="bold">testing data</text>
<circle cx="493" cy="670.4" r="3.500" fill="none" stroke="#FF0000" stroke-width="1.700"/>
<circle cx="543.9" cy="652.2" r="3.500" fill="none" stroke="#FF0000" stroke-width="1.700"/>
<circle cx="569.6" cy="619.7" r="3.500" fill="none" stroke="#FF0000" stroke-width="1.700"/>
<circle cx="589.9" cy="590.5" r="3.500" fill="none" stroke="#FF0000" stroke-width="1.700"/>
<circle cx="610.2" cy="565.5" r="3.500" fill="none" stroke="#FF0000" stroke-width="1.700"/>
<circle cx="607.6" cy="658.2" r="3.500" fill="none" stroke="#FF0000" stroke-width="1.700"/>
<circle cx="645.7" cy="670" r="3.500" fill="none" stroke="#FF0000" stroke-width="1.700"/>
</svg>
</body></html>
